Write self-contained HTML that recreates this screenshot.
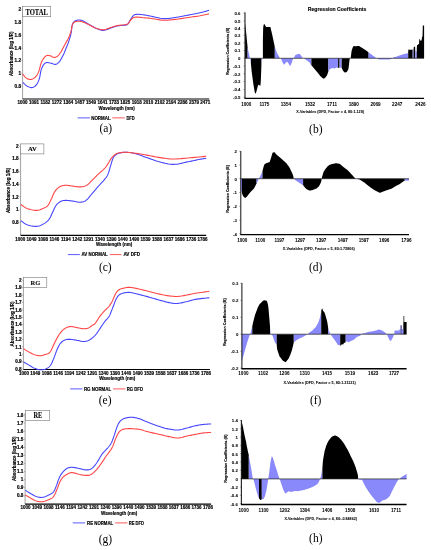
<!DOCTYPE html>
<html><head><meta charset="utf-8"><title>Figure</title>
<style>
html,body{margin:0;padding:0;background:#fff;}
body{width:431px;height:550px;overflow:hidden;}
svg{display:block;}

</style></head>
<body>
<svg width="431" height="550" viewBox="0 0 431 550">
<rect width="431" height="550" fill="#fff"/>
<line x1="22.6" y1="8.5" x2="22.6" y2="99.0" stroke="#8a8a8a" stroke-width="0.8"/>
<text x="21.00" y="11.30" font-size="4.6" text-anchor="end" font-weight="bold" font-family="'Liberation Sans', Arial, sans-serif" fill="#000" stroke="#000" stroke-width="0.2" >2</text>
<line x1="21.3" y1="9.7" x2="22.6" y2="9.7" stroke="#777" stroke-width="0.5"/>
<text x="21.00" y="24.00" font-size="4.6" text-anchor="end" font-weight="bold" font-family="'Liberation Sans', Arial, sans-serif" fill="#000" stroke="#000" stroke-width="0.2" >1.8</text>
<line x1="21.3" y1="22.4" x2="22.6" y2="22.4" stroke="#777" stroke-width="0.5"/>
<text x="21.00" y="36.90" font-size="4.6" text-anchor="end" font-weight="bold" font-family="'Liberation Sans', Arial, sans-serif" fill="#000" stroke="#000" stroke-width="0.2" >1.6</text>
<line x1="21.3" y1="35.3" x2="22.6" y2="35.3" stroke="#777" stroke-width="0.5"/>
<text x="21.00" y="49.60" font-size="4.6" text-anchor="end" font-weight="bold" font-family="'Liberation Sans', Arial, sans-serif" fill="#000" stroke="#000" stroke-width="0.2" >1.4</text>
<line x1="21.3" y1="48.0" x2="22.6" y2="48.0" stroke="#777" stroke-width="0.5"/>
<text x="21.00" y="62.20" font-size="4.6" text-anchor="end" font-weight="bold" font-family="'Liberation Sans', Arial, sans-serif" fill="#000" stroke="#000" stroke-width="0.2" >1.2</text>
<line x1="21.3" y1="60.6" x2="22.6" y2="60.6" stroke="#777" stroke-width="0.5"/>
<text x="21.00" y="74.80" font-size="4.6" text-anchor="end" font-weight="bold" font-family="'Liberation Sans', Arial, sans-serif" fill="#000" stroke="#000" stroke-width="0.2" >1</text>
<line x1="21.3" y1="73.2" x2="22.6" y2="73.2" stroke="#777" stroke-width="0.5"/>
<text x="21.00" y="87.60" font-size="4.6" text-anchor="end" font-weight="bold" font-family="'Liberation Sans', Arial, sans-serif" fill="#000" stroke="#000" stroke-width="0.2" >0.8</text>
<line x1="21.3" y1="86.0" x2="22.6" y2="86.0" stroke="#777" stroke-width="0.5"/>
<line x1="22.6" y1="99.0" x2="209.3" y2="99.0" stroke="#000" stroke-width="1.2"/>
<text x="22.50" y="104.10" font-size="4.5" text-anchor="middle" font-weight="bold" font-family="'Liberation Sans', Arial, sans-serif" fill="#000" stroke="#000" stroke-width="0.16" >1000</text>
<text x="33.93" y="104.10" font-size="4.5" text-anchor="middle" font-weight="bold" font-family="'Liberation Sans', Arial, sans-serif" fill="#000" stroke="#000" stroke-width="0.16" >1091</text>
<text x="45.36" y="104.10" font-size="4.5" text-anchor="middle" font-weight="bold" font-family="'Liberation Sans', Arial, sans-serif" fill="#000" stroke="#000" stroke-width="0.16" >1182</text>
<text x="56.79" y="104.10" font-size="4.5" text-anchor="middle" font-weight="bold" font-family="'Liberation Sans', Arial, sans-serif" fill="#000" stroke="#000" stroke-width="0.16" >1272</text>
<text x="68.22" y="104.10" font-size="4.5" text-anchor="middle" font-weight="bold" font-family="'Liberation Sans', Arial, sans-serif" fill="#000" stroke="#000" stroke-width="0.16" >1364</text>
<text x="79.65" y="104.10" font-size="4.5" text-anchor="middle" font-weight="bold" font-family="'Liberation Sans', Arial, sans-serif" fill="#000" stroke="#000" stroke-width="0.16" >1457</text>
<text x="91.08" y="104.10" font-size="4.5" text-anchor="middle" font-weight="bold" font-family="'Liberation Sans', Arial, sans-serif" fill="#000" stroke="#000" stroke-width="0.16" >1549</text>
<text x="102.51" y="104.10" font-size="4.5" text-anchor="middle" font-weight="bold" font-family="'Liberation Sans', Arial, sans-serif" fill="#000" stroke="#000" stroke-width="0.16" >1641</text>
<text x="113.94" y="104.10" font-size="4.5" text-anchor="middle" font-weight="bold" font-family="'Liberation Sans', Arial, sans-serif" fill="#000" stroke="#000" stroke-width="0.16" >1733</text>
<text x="125.37" y="104.10" font-size="4.5" text-anchor="middle" font-weight="bold" font-family="'Liberation Sans', Arial, sans-serif" fill="#000" stroke="#000" stroke-width="0.16" >1825</text>
<text x="136.80" y="104.10" font-size="4.5" text-anchor="middle" font-weight="bold" font-family="'Liberation Sans', Arial, sans-serif" fill="#000" stroke="#000" stroke-width="0.16" >1918</text>
<text x="148.23" y="104.10" font-size="4.5" text-anchor="middle" font-weight="bold" font-family="'Liberation Sans', Arial, sans-serif" fill="#000" stroke="#000" stroke-width="0.16" >2010</text>
<text x="159.66" y="104.10" font-size="4.5" text-anchor="middle" font-weight="bold" font-family="'Liberation Sans', Arial, sans-serif" fill="#000" stroke="#000" stroke-width="0.16" >2102</text>
<text x="171.09" y="104.10" font-size="4.5" text-anchor="middle" font-weight="bold" font-family="'Liberation Sans', Arial, sans-serif" fill="#000" stroke="#000" stroke-width="0.16" >2194</text>
<text x="182.52" y="104.10" font-size="4.5" text-anchor="middle" font-weight="bold" font-family="'Liberation Sans', Arial, sans-serif" fill="#000" stroke="#000" stroke-width="0.16" >2286</text>
<text x="193.95" y="104.10" font-size="4.5" text-anchor="middle" font-weight="bold" font-family="'Liberation Sans', Arial, sans-serif" fill="#000" stroke="#000" stroke-width="0.16" >2379</text>
<text x="205.38" y="104.10" font-size="4.5" text-anchor="middle" font-weight="bold" font-family="'Liberation Sans', Arial, sans-serif" fill="#000" stroke="#000" stroke-width="0.16" >2471</text>
<text x="116.60" y="109.55" font-size="4.5" text-anchor="middle" font-weight="bold" font-family="'Liberation Sans', Arial, sans-serif" fill="#000" stroke="#000" stroke-width="0.15" >Wavelength (nm)</text>
<text x="0.00" y="0.00" font-size="4.7" text-anchor="middle" font-weight="bold" font-family="'Liberation Sans', Arial, sans-serif" fill="#000" stroke="#000" stroke-width="0.15" textLength="44.5" lengthAdjust="spacingAndGlyphs" transform="translate(12.8,53.75) rotate(-90)">Absorbance (log 1/R)</text>
<rect x="22.6" y="6.5" width="28.1" height="10.2" fill="#fff" stroke="#777" stroke-width="0.6"/>
<text x="36.70" y="14.50" font-size="7.4" text-anchor="middle" font-weight="bold" font-family="'Liberation Serif', 'Times New Roman', serif" fill="#000" stroke="#000" stroke-width="0.08" textLength="22.6" lengthAdjust="spacingAndGlyphs" >TOTAL</text>
<polyline points="22.80,82.30 23.08,82.58 23.45,82.97 23.88,83.43 24.37,83.94 24.90,84.46 25.46,84.96 26.03,85.42 26.60,85.80 27.20,86.14 27.84,86.48 28.51,86.81 29.20,87.10 29.90,87.34 30.59,87.52 31.26,87.61 31.90,87.60 32.52,87.49 33.14,87.29 33.75,87.01 34.35,86.66 34.93,86.25 35.49,85.78 36.01,85.26 36.50,84.70 36.95,84.08 37.37,83.39 37.76,82.63 38.13,81.82 38.48,80.98 38.80,80.10 39.11,79.21 39.40,78.30 39.67,77.35 39.89,76.33 40.09,75.26 40.28,74.18 40.46,73.11 40.65,72.07 40.86,71.09 41.10,70.20 41.36,69.38 41.64,68.61 41.93,67.88 42.22,67.19 42.53,66.54 42.85,65.95 43.17,65.40 43.50,64.90 43.83,64.45 44.15,64.05 44.48,63.69 44.81,63.38 45.17,63.12 45.54,62.90 45.95,62.73 46.40,62.60 46.89,62.53 47.43,62.53 48.00,62.59 48.59,62.68 49.20,62.80 49.81,62.94 50.41,63.08 51.00,63.20 51.58,63.35 52.18,63.54 52.77,63.76 53.37,63.99 53.96,64.19 54.53,64.34 55.08,64.42 55.60,64.40 56.10,64.27 56.60,64.04 57.09,63.75 57.55,63.40 57.99,63.03 58.40,62.66 58.77,62.31 59.10,62.00 59.37,61.74 59.58,61.51 59.75,61.30 59.89,61.09 60.02,60.86 60.15,60.62 60.31,60.33 60.50,60.00 60.73,59.61 60.98,59.18 61.24,58.72 61.51,58.23 61.79,57.73 62.07,57.21 62.34,56.70 62.60,56.20 62.86,55.70 63.12,55.19 63.38,54.68 63.64,54.16 63.89,53.64 64.14,53.13 64.37,52.61 64.60,52.10 64.80,51.61 64.98,51.15 65.15,50.70 65.31,50.25 65.48,49.78 65.66,49.27 65.86,48.72 66.10,48.10 66.37,47.42 66.68,46.69 67.01,45.92 67.35,45.11 67.70,44.26 68.05,43.40 68.38,42.51 68.70,41.60 69.01,40.66 69.32,39.69 69.63,38.68 69.94,37.65 70.23,36.61 70.51,35.56 70.77,34.52 71.00,33.50 71.20,32.46 71.37,31.37 71.51,30.26 71.64,29.16 71.76,28.10 71.89,27.10 72.03,26.19 72.20,25.40 72.38,24.73 72.55,24.16 72.72,23.67 72.91,23.25 73.11,22.88 73.34,22.54 73.60,22.22 73.90,21.90 74.24,21.59 74.62,21.30 75.03,21.04 75.47,20.81 75.93,20.61 76.41,20.44 76.90,20.30 77.40,20.20 77.91,20.12 78.44,20.07 78.99,20.04 79.56,20.04 80.14,20.09 80.74,20.17 81.36,20.31 82.00,20.50 82.66,20.76 83.34,21.08 84.03,21.45 84.75,21.87 85.48,22.31 86.24,22.78 87.01,23.24 87.80,23.70 88.63,24.17 89.49,24.68 90.39,25.22 91.30,25.76 92.21,26.29 93.11,26.80 93.97,27.28 94.80,27.70 95.59,28.08 96.38,28.44 97.14,28.78 97.89,29.09 98.61,29.37 99.30,29.61 99.97,29.82 100.60,30.00 101.17,30.14 101.66,30.26 102.10,30.34 102.52,30.39 102.96,30.41 103.43,30.38 103.97,30.31 104.60,30.20 105.34,30.02 106.17,29.77 107.06,29.47 107.99,29.13 108.93,28.78 109.86,28.43 110.76,28.09 111.60,27.80 112.38,27.53 113.13,27.26 113.86,26.99 114.57,26.74 115.28,26.50 115.98,26.27 116.68,26.07 117.40,25.90 118.14,25.76 118.89,25.66 119.65,25.59 120.41,25.53 121.15,25.48 121.87,25.43 122.56,25.38 123.20,25.30 123.80,25.23 124.37,25.20 124.91,25.17 125.43,25.14 125.93,25.07 126.40,24.96 126.86,24.77 127.30,24.50 127.72,24.12 128.10,23.66 128.45,23.13 128.79,22.54 129.13,21.93 129.47,21.31 129.82,20.69 130.20,20.10 130.60,19.50 131.01,18.86 131.43,18.20 131.86,17.54 132.30,16.91 132.73,16.33 133.17,15.82 133.60,15.40 134.01,15.08 134.39,14.83 134.75,14.65 135.12,14.52 135.53,14.43 135.98,14.37 136.49,14.33 137.10,14.30 137.82,14.29 138.63,14.32 139.52,14.38 140.45,14.46 141.40,14.56 142.35,14.68 143.25,14.79 144.10,14.90 144.84,15.00 145.47,15.10 146.05,15.21 146.63,15.32 147.26,15.46 148.00,15.61 148.90,15.79 150.00,16.00 151.36,16.28 152.93,16.63 154.67,17.03 156.51,17.44 158.40,17.83 160.26,18.18 162.05,18.44 163.70,18.60 165.20,18.65 166.61,18.62 167.95,18.53 169.27,18.38 170.60,18.19 171.97,17.97 173.43,17.74 175.00,17.50 176.73,17.23 178.61,16.92 180.57,16.57 182.58,16.21 184.58,15.83 186.51,15.46 188.34,15.11 190.00,14.80 191.50,14.52 192.88,14.26 194.16,14.02 195.38,13.78 196.54,13.55 197.69,13.31 198.83,13.06 200.00,12.80 201.23,12.50 202.53,12.17 203.84,11.82 205.12,11.48 206.33,11.14 207.41,10.84 208.31,10.59 209.00,10.40" fill="none" stroke="#4646ff" stroke-width="1.1" stroke-linejoin="round"/>
<polyline points="22.80,74.20 23.09,74.54 23.46,75.01 23.91,75.57 24.41,76.18 24.94,76.80 25.50,77.39 26.06,77.90 26.60,78.30 27.15,78.61 27.71,78.88 28.30,79.11 28.90,79.29 29.51,79.41 30.11,79.48 30.71,79.47 31.30,79.40 31.89,79.24 32.50,79.01 33.11,78.71 33.71,78.34 34.30,77.93 34.87,77.48 35.41,77.00 35.90,76.50 36.35,75.98 36.76,75.43 37.14,74.85 37.49,74.22 37.83,73.56 38.16,72.86 38.48,72.10 38.80,71.30 39.12,70.40 39.41,69.40 39.70,68.32 39.98,67.21 40.26,66.11 40.53,65.05 40.81,64.06 41.10,63.20 41.39,62.45 41.68,61.76 41.97,61.14 42.26,60.58 42.56,60.05 42.86,59.55 43.18,59.07 43.50,58.60 43.84,58.14 44.18,57.69 44.53,57.26 44.89,56.86 45.25,56.50 45.63,56.18 46.01,55.91 46.40,55.70 46.79,55.55 47.18,55.46 47.58,55.41 47.99,55.41 48.41,55.45 48.85,55.51 49.31,55.60 49.80,55.70 50.33,55.85 50.91,56.09 51.52,56.36 52.14,56.66 52.77,56.94 53.38,57.17 53.96,57.34 54.50,57.40 55.01,57.36 55.49,57.23 55.97,57.05 56.42,56.81 56.85,56.55 57.26,56.26 57.64,55.97 58.00,55.70 58.33,55.42 58.62,55.12 58.89,54.80 59.13,54.47 59.36,54.14 59.58,53.81 59.79,53.49 60.00,53.20 60.19,52.95 60.35,52.76 60.49,52.59 60.62,52.43 60.77,52.23 60.94,51.98 61.14,51.64 61.40,51.20 61.71,50.64 62.05,50.00 62.43,49.27 62.83,48.49 63.25,47.67 63.69,46.82 64.14,45.96 64.60,45.10 65.08,44.22 65.60,43.30 66.15,42.34 66.71,41.37 67.25,40.39 67.78,39.43 68.27,38.49 68.70,37.60 69.08,36.74 69.43,35.91 69.74,35.09 70.03,34.29 70.30,33.51 70.54,32.73 70.78,31.96 71.00,31.20 71.20,30.43 71.37,29.64 71.51,28.85 71.64,28.08 71.76,27.34 71.89,26.63 72.03,25.98 72.20,25.40 72.38,24.89 72.55,24.43 72.72,24.03 72.91,23.66 73.11,23.34 73.34,23.04 73.60,22.76 73.90,22.50 74.24,22.26 74.62,22.04 75.03,21.86 75.47,21.69 75.93,21.56 76.41,21.45 76.90,21.36 77.40,21.30 77.91,21.26 78.44,21.24 78.99,21.24 79.56,21.27 80.14,21.33 80.74,21.41 81.36,21.54 82.00,21.70 82.66,21.91 83.34,22.15 84.03,22.44 84.75,22.76 85.48,23.10 86.24,23.46 87.01,23.83 87.80,24.20 88.63,24.60 89.49,25.04 90.39,25.51 91.30,25.99 92.21,26.47 93.11,26.92 93.97,27.34 94.80,27.70 95.59,28.02 96.38,28.31 97.14,28.57 97.89,28.81 98.61,29.02 99.30,29.21 99.97,29.37 100.60,29.50 101.17,29.61 101.66,29.70 102.10,29.77 102.52,29.81 102.96,29.82 103.43,29.79 103.97,29.72 104.60,29.60 105.34,29.41 106.17,29.16 107.06,28.85 107.99,28.51 108.93,28.15 109.86,27.80 110.76,27.48 111.60,27.20 112.35,26.96 113.04,26.74 113.68,26.54 114.32,26.34 114.98,26.16 115.69,25.97 116.49,25.79 117.40,25.60 118.49,25.42 119.75,25.26 121.12,25.11 122.53,24.96 123.92,24.80 125.22,24.61 126.37,24.38 127.30,24.10 127.99,23.77 128.48,23.39 128.83,22.97 129.08,22.53 129.30,22.07 129.52,21.60 129.80,21.14 130.20,20.70 130.66,20.24 131.12,19.74 131.59,19.21 132.10,18.70 132.66,18.22 133.28,17.79 133.99,17.44 134.80,17.20 135.76,17.08 136.87,17.06 138.09,17.13 139.37,17.25 140.65,17.40 141.90,17.56 143.07,17.70 144.10,17.80 144.95,17.86 145.63,17.90 146.22,17.93 146.77,17.97 147.37,18.01 148.06,18.08 148.91,18.17 150.00,18.30 151.36,18.49 152.93,18.74 154.67,19.03 156.51,19.33 158.40,19.62 160.26,19.88 162.05,20.08 163.70,20.20 165.20,20.24 166.61,20.22 167.95,20.16 169.27,20.06 170.60,19.92 171.97,19.76 173.43,19.59 175.00,19.40 176.73,19.19 178.61,18.93 180.57,18.64 182.58,18.34 184.58,18.03 186.51,17.73 188.34,17.45 190.00,17.20 191.50,16.99 192.88,16.81 194.16,16.64 195.38,16.48 196.54,16.33 197.69,16.17 198.83,15.99 200.00,15.80 201.23,15.57 202.53,15.32 203.84,15.04 205.12,14.76 206.33,14.50 207.41,14.25 208.31,14.05 209.00,13.90" fill="none" stroke="#ff4646" stroke-width="1.1" stroke-linejoin="round"/>
<line x1="77.7" y1="117.9" x2="89.9" y2="117.9" stroke="#4646ff" stroke-width="0.9"/>
<text x="91.20" y="119.50" font-size="4.55" text-anchor="start" font-weight="bold" font-family="'Liberation Sans', Arial, sans-serif" fill="#000" stroke="#000" stroke-width="0.15" textLength="19.5" lengthAdjust="spacingAndGlyphs" >NORMAL</text>
<line x1="112.3" y1="117.9" x2="124.8" y2="117.9" stroke="#ff4646" stroke-width="0.9"/>
<text x="126.40" y="119.50" font-size="4.55" text-anchor="start" font-weight="bold" font-family="'Liberation Sans', Arial, sans-serif" fill="#000" stroke="#000" stroke-width="0.15" textLength="8.3" lengthAdjust="spacingAndGlyphs" >DFD</text>
<text x="105.80" y="132.30" font-size="11.5" text-anchor="middle" font-weight="normal" font-family="'Liberation Serif', 'Times New Roman', serif" fill="#000" >(a)</text>
<line x1="20.6" y1="146.0" x2="20.6" y2="235.4" stroke="#8a8a8a" stroke-width="0.8"/>
<text x="18.60" y="147.90" font-size="4.6" text-anchor="end" font-weight="bold" font-family="'Liberation Sans', Arial, sans-serif" fill="#000" stroke="#000" stroke-width="0.2" >2</text>
<line x1="19.3" y1="146.3" x2="20.6" y2="146.3" stroke="#777" stroke-width="0.5"/>
<text x="18.60" y="160.40" font-size="4.6" text-anchor="end" font-weight="bold" font-family="'Liberation Sans', Arial, sans-serif" fill="#000" stroke="#000" stroke-width="0.2" >1.8</text>
<line x1="19.3" y1="158.8" x2="20.6" y2="158.8" stroke="#777" stroke-width="0.5"/>
<text x="18.60" y="173.20" font-size="4.6" text-anchor="end" font-weight="bold" font-family="'Liberation Sans', Arial, sans-serif" fill="#000" stroke="#000" stroke-width="0.2" >1.6</text>
<line x1="19.3" y1="171.6" x2="20.6" y2="171.6" stroke="#777" stroke-width="0.5"/>
<text x="18.60" y="185.90" font-size="4.6" text-anchor="end" font-weight="bold" font-family="'Liberation Sans', Arial, sans-serif" fill="#000" stroke="#000" stroke-width="0.2" >1.4</text>
<line x1="19.3" y1="184.3" x2="20.6" y2="184.3" stroke="#777" stroke-width="0.5"/>
<text x="18.60" y="198.60" font-size="4.6" text-anchor="end" font-weight="bold" font-family="'Liberation Sans', Arial, sans-serif" fill="#000" stroke="#000" stroke-width="0.2" >1.2</text>
<line x1="19.3" y1="197.0" x2="20.6" y2="197.0" stroke="#777" stroke-width="0.5"/>
<text x="18.60" y="211.30" font-size="4.6" text-anchor="end" font-weight="bold" font-family="'Liberation Sans', Arial, sans-serif" fill="#000" stroke="#000" stroke-width="0.2" >1</text>
<line x1="19.3" y1="209.7" x2="20.6" y2="209.7" stroke="#777" stroke-width="0.5"/>
<text x="18.60" y="224.10" font-size="4.6" text-anchor="end" font-weight="bold" font-family="'Liberation Sans', Arial, sans-serif" fill="#000" stroke="#000" stroke-width="0.2" >0.8</text>
<line x1="19.3" y1="222.5" x2="20.6" y2="222.5" stroke="#777" stroke-width="0.5"/>
<line x1="20.6" y1="235.4" x2="206.2" y2="235.4" stroke="#000" stroke-width="1.2"/>
<text x="20.20" y="240.60" font-size="4.5" text-anchor="middle" font-weight="bold" font-family="'Liberation Sans', Arial, sans-serif" fill="#000" stroke="#000" stroke-width="0.16" >1000</text>
<text x="31.60" y="240.60" font-size="4.5" text-anchor="middle" font-weight="bold" font-family="'Liberation Sans', Arial, sans-serif" fill="#000" stroke="#000" stroke-width="0.16" >1049</text>
<text x="43.00" y="240.60" font-size="4.5" text-anchor="middle" font-weight="bold" font-family="'Liberation Sans', Arial, sans-serif" fill="#000" stroke="#000" stroke-width="0.16" >1098</text>
<text x="54.40" y="240.60" font-size="4.5" text-anchor="middle" font-weight="bold" font-family="'Liberation Sans', Arial, sans-serif" fill="#000" stroke="#000" stroke-width="0.16" >1146</text>
<text x="65.80" y="240.60" font-size="4.5" text-anchor="middle" font-weight="bold" font-family="'Liberation Sans', Arial, sans-serif" fill="#000" stroke="#000" stroke-width="0.16" >1194</text>
<text x="77.20" y="240.60" font-size="4.5" text-anchor="middle" font-weight="bold" font-family="'Liberation Sans', Arial, sans-serif" fill="#000" stroke="#000" stroke-width="0.16" >1242</text>
<text x="88.60" y="240.60" font-size="4.5" text-anchor="middle" font-weight="bold" font-family="'Liberation Sans', Arial, sans-serif" fill="#000" stroke="#000" stroke-width="0.16" >1291</text>
<text x="100.00" y="240.60" font-size="4.5" text-anchor="middle" font-weight="bold" font-family="'Liberation Sans', Arial, sans-serif" fill="#000" stroke="#000" stroke-width="0.16" >1340</text>
<text x="111.40" y="240.60" font-size="4.5" text-anchor="middle" font-weight="bold" font-family="'Liberation Sans', Arial, sans-serif" fill="#000" stroke="#000" stroke-width="0.16" >1390</text>
<text x="122.80" y="240.60" font-size="4.5" text-anchor="middle" font-weight="bold" font-family="'Liberation Sans', Arial, sans-serif" fill="#000" stroke="#000" stroke-width="0.16" >1440</text>
<text x="134.20" y="240.60" font-size="4.5" text-anchor="middle" font-weight="bold" font-family="'Liberation Sans', Arial, sans-serif" fill="#000" stroke="#000" stroke-width="0.16" >1490</text>
<text x="145.60" y="240.60" font-size="4.5" text-anchor="middle" font-weight="bold" font-family="'Liberation Sans', Arial, sans-serif" fill="#000" stroke="#000" stroke-width="0.16" >1539</text>
<text x="157.00" y="240.60" font-size="4.5" text-anchor="middle" font-weight="bold" font-family="'Liberation Sans', Arial, sans-serif" fill="#000" stroke="#000" stroke-width="0.16" >1588</text>
<text x="168.40" y="240.60" font-size="4.5" text-anchor="middle" font-weight="bold" font-family="'Liberation Sans', Arial, sans-serif" fill="#000" stroke="#000" stroke-width="0.16" >1637</text>
<text x="179.80" y="240.60" font-size="4.5" text-anchor="middle" font-weight="bold" font-family="'Liberation Sans', Arial, sans-serif" fill="#000" stroke="#000" stroke-width="0.16" >1686</text>
<text x="191.20" y="240.60" font-size="4.5" text-anchor="middle" font-weight="bold" font-family="'Liberation Sans', Arial, sans-serif" fill="#000" stroke="#000" stroke-width="0.16" >1736</text>
<text x="202.60" y="240.60" font-size="4.5" text-anchor="middle" font-weight="bold" font-family="'Liberation Sans', Arial, sans-serif" fill="#000" stroke="#000" stroke-width="0.16" >1786</text>
<text x="114.10" y="246.45" font-size="4.5" text-anchor="middle" font-weight="bold" font-family="'Liberation Sans', Arial, sans-serif" fill="#000" stroke="#000" stroke-width="0.15" >Wavelength (nm)</text>
<text x="0.00" y="0.00" font-size="4.7" text-anchor="middle" font-weight="bold" font-family="'Liberation Sans', Arial, sans-serif" fill="#000" stroke="#000" stroke-width="0.15" textLength="45.2" lengthAdjust="spacingAndGlyphs" transform="translate(10.3,190.3) rotate(-90)">Absorbance (log 1/R)</text>
<rect x="20.4" y="143.9" width="23.5" height="10.0" fill="#fff" stroke="#777" stroke-width="0.6"/>
<text x="32.40" y="151.30" font-size="7.1" text-anchor="middle" font-weight="bold" font-family="'Liberation Serif', 'Times New Roman', serif" fill="#000" stroke="#000" stroke-width="0.08" textLength="8.8" lengthAdjust="spacingAndGlyphs" >AV</text>
<polyline points="20.80,220.60 21.26,220.93 21.84,221.39 22.54,221.94 23.33,222.54 24.18,223.16 25.09,223.75 26.04,224.27 27.00,224.70 28.02,225.05 29.14,225.39 30.33,225.69 31.55,225.95 32.78,226.16 33.98,226.31 35.13,226.40 36.20,226.40 37.19,226.32 38.13,226.16 39.04,225.94 39.91,225.65 40.76,225.31 41.59,224.94 42.40,224.53 43.20,224.10 44.00,223.64 44.79,223.15 45.56,222.61 46.32,222.04 47.05,221.43 47.74,220.79 48.39,220.11 49.00,219.40 49.55,218.64 50.04,217.83 50.48,216.98 50.89,216.09 51.29,215.19 51.68,214.28 52.08,213.38 52.50,212.50 52.93,211.61 53.35,210.69 53.76,209.75 54.18,208.82 54.61,207.91 55.05,207.04 55.51,206.23 56.00,205.50 56.52,204.84 57.07,204.22 57.64,203.65 58.23,203.13 58.83,202.66 59.42,202.23 60.02,201.84 60.60,201.50 61.16,201.21 61.70,200.98 62.23,200.80 62.76,200.66 63.31,200.56 63.90,200.49 64.52,200.44 65.20,200.40 65.94,200.39 66.71,200.42 67.53,200.47 68.38,200.56 69.26,200.66 70.16,200.77 71.07,200.88 72.00,201.00 72.97,201.14 73.99,201.33 75.04,201.53 76.11,201.74 77.17,201.94 78.21,202.09 79.19,202.18 80.10,202.20 80.94,202.16 81.71,202.09 82.44,201.98 83.14,201.82 83.83,201.61 84.50,201.32 85.19,200.96 85.90,200.50 86.62,199.94 87.32,199.27 88.03,198.52 88.73,197.70 89.44,196.83 90.17,195.93 90.92,195.01 91.70,194.10 92.52,193.16 93.37,192.15 94.26,191.11 95.15,190.05 96.04,188.99 96.93,187.95 97.78,186.94 98.60,186.00 99.39,185.11 100.18,184.25 100.96,183.42 101.71,182.62 102.44,181.84 103.14,181.08 103.79,180.33 104.40,179.60 104.95,178.92 105.45,178.31 105.91,177.74 106.33,177.18 106.73,176.60 107.12,175.96 107.51,175.24 107.90,174.40 108.30,173.42 108.68,172.31 109.06,171.11 109.42,169.86 109.78,168.60 110.13,167.36 110.47,166.18 110.80,165.10 111.12,164.09 111.41,163.10 111.70,162.14 111.98,161.21 112.26,160.34 112.53,159.52 112.81,158.77 113.10,158.10 113.39,157.52 113.68,157.02 113.96,156.59 114.25,156.22 114.54,155.89 114.85,155.59 115.17,155.29 115.50,155.00 115.86,154.71 116.24,154.45 116.64,154.21 117.05,153.99 117.46,153.79 117.86,153.61 118.24,153.45 118.60,153.30 118.92,153.18 119.19,153.09 119.45,153.03 119.69,152.98 119.95,152.94 120.25,152.90 120.59,152.86 121.00,152.80 121.46,152.72 121.93,152.61 122.43,152.50 122.97,152.39 123.57,152.29 124.23,152.22 124.97,152.18 125.80,152.20 126.72,152.25 127.74,152.33 128.83,152.43 129.98,152.56 131.19,152.73 132.44,152.94 133.71,153.20 135.00,153.50 136.31,153.87 137.67,154.30 139.06,154.78 140.48,155.30 141.94,155.84 143.43,156.40 144.95,156.96 146.50,157.50 148.09,158.05 149.73,158.64 151.40,159.24 153.11,159.85 154.83,160.44 156.56,161.01 158.28,161.53 160.00,162.00 161.71,162.43 163.42,162.86 165.14,163.27 166.86,163.64 168.58,163.96 170.31,164.20 172.05,164.35 173.80,164.40 175.57,164.31 177.37,164.10 179.19,163.79 181.01,163.41 182.82,162.99 184.60,162.56 186.33,162.15 188.00,161.80 189.64,161.47 191.29,161.13 192.92,160.79 194.50,160.45 196.02,160.12 197.46,159.82 198.79,159.54 200.00,159.30 201.09,159.10 202.10,158.92 203.02,158.77 203.85,158.64 204.58,158.54 205.22,158.44 205.76,158.37 206.20,158.30" fill="none" stroke="#4646ff" stroke-width="1.1" stroke-linejoin="round"/>
<polyline points="20.80,204.40 21.26,204.72 21.84,205.17 22.54,205.69 23.33,206.28 24.18,206.87 25.09,207.45 26.04,207.97 27.00,208.40 28.02,208.77 29.14,209.13 30.33,209.47 31.55,209.78 32.78,210.03 33.98,210.23 35.13,210.36 36.20,210.40 37.20,210.35 38.16,210.20 39.09,209.98 39.99,209.71 40.85,209.39 41.67,209.06 42.45,208.72 43.20,208.40 43.90,208.10 44.54,207.82 45.15,207.53 45.72,207.23 46.26,206.88 46.78,206.49 47.29,206.04 47.80,205.50 48.29,204.87 48.75,204.17 49.19,203.40 49.62,202.59 50.04,201.73 50.45,200.86 50.87,199.98 51.30,199.10 51.73,198.20 52.15,197.23 52.56,196.24 52.98,195.24 53.41,194.25 53.85,193.30 54.31,192.41 54.80,191.60 55.31,190.87 55.84,190.18 56.39,189.54 56.96,188.94 57.54,188.39 58.14,187.88 58.76,187.42 59.40,187.00 60.06,186.63 60.74,186.31 61.44,186.04 62.16,185.82 62.90,185.63 63.65,185.49 64.42,185.38 65.20,185.30 65.99,185.27 66.80,185.30 67.62,185.38 68.46,185.49 69.31,185.62 70.19,185.75 71.08,185.89 72.00,186.00 72.96,186.12 73.97,186.27 75.02,186.43 76.07,186.59 77.13,186.73 78.16,186.84 79.16,186.90 80.10,186.90 80.99,186.85 81.85,186.77 82.68,186.65 83.48,186.50 84.26,186.30 85.02,186.06 85.77,185.76 86.50,185.40 87.20,184.98 87.84,184.50 88.46,183.97 89.07,183.39 89.68,182.76 90.31,182.10 90.98,181.41 91.70,180.70 92.49,179.93 93.33,179.09 94.21,178.20 95.11,177.28 96.02,176.36 96.91,175.46 97.78,174.60 98.60,173.80 99.39,173.07 100.18,172.37 100.96,171.70 101.71,171.06 102.44,170.44 103.14,169.83 103.79,169.21 104.40,168.60 104.95,168.00 105.44,167.42 105.88,166.85 106.29,166.29 106.69,165.72 107.08,165.14 107.48,164.54 107.90,163.90 108.34,163.21 108.77,162.47 109.21,161.70 109.64,160.93 110.08,160.15 110.52,159.41 110.96,158.72 111.40,158.10 111.85,157.54 112.32,157.01 112.80,156.52 113.27,156.07 113.73,155.65 114.18,155.27 114.61,154.92 115.00,154.60 115.35,154.33 115.66,154.11 115.94,153.92 116.20,153.78 116.46,153.65 116.74,153.53 117.05,153.42 117.40,153.30 117.78,153.18 118.19,153.08 118.61,152.98 119.05,152.89 119.51,152.81 119.99,152.74 120.48,152.67 121.00,152.60 121.51,152.53 122.01,152.45 122.52,152.37 123.05,152.29 123.62,152.23 124.26,152.19 124.98,152.18 125.80,152.20 126.72,152.25 127.74,152.33 128.83,152.43 129.98,152.56 131.19,152.70 132.44,152.85 133.71,153.02 135.00,153.20 136.31,153.39 137.67,153.60 139.06,153.82 140.48,154.06 141.94,154.30 143.43,154.56 144.95,154.83 146.50,155.10 148.09,155.39 149.74,155.71 151.42,156.04 153.14,156.38 154.86,156.72 156.59,157.04 158.31,157.34 160.00,157.60 161.65,157.85 163.26,158.09 164.85,158.32 166.45,158.53 168.07,158.71 169.74,158.86 171.48,158.96 173.30,159.00 175.23,158.98 177.25,158.89 179.34,158.75 181.47,158.58 183.62,158.39 185.78,158.18 187.91,157.98 190.00,157.80 192.16,157.62 194.46,157.41 196.82,157.19 199.14,156.98 201.33,156.77 203.30,156.58 204.95,156.42 206.20,156.30" fill="none" stroke="#ff4646" stroke-width="1.1" stroke-linejoin="round"/>
<line x1="67.8" y1="254.6" x2="79.9" y2="254.6" stroke="#4646ff" stroke-width="0.9"/>
<text x="81.50" y="256.20" font-size="4.55" text-anchor="start" font-weight="bold" font-family="'Liberation Sans', Arial, sans-serif" fill="#000" stroke="#000" stroke-width="0.15" textLength="26.3" lengthAdjust="spacingAndGlyphs" >AV NORMAL</text>
<line x1="109.8" y1="254.6" x2="121.5" y2="254.6" stroke="#ff4646" stroke-width="0.9"/>
<text x="123.40" y="256.20" font-size="4.55" text-anchor="start" font-weight="bold" font-family="'Liberation Sans', Arial, sans-serif" fill="#000" stroke="#000" stroke-width="0.15" textLength="16.6" lengthAdjust="spacingAndGlyphs" >AV DFD</text>
<text x="105.30" y="271.40" font-size="11.5" text-anchor="middle" font-weight="normal" font-family="'Liberation Serif', 'Times New Roman', serif" fill="#000" >(c)</text>
<line x1="23.4" y1="280.0" x2="23.4" y2="369.5" stroke="#8a8a8a" stroke-width="0.8"/>
<text x="21.60" y="281.90" font-size="4.6" text-anchor="end" font-weight="bold" font-family="'Liberation Sans', Arial, sans-serif" fill="#000" stroke="#000" stroke-width="0.2" >2</text>
<line x1="22.099999999999998" y1="280.3" x2="23.4" y2="280.3" stroke="#777" stroke-width="0.5"/>
<text x="21.60" y="289.30" font-size="4.6" text-anchor="end" font-weight="bold" font-family="'Liberation Sans', Arial, sans-serif" fill="#000" stroke="#000" stroke-width="0.2" >1.9</text>
<line x1="22.099999999999998" y1="287.7" x2="23.4" y2="287.7" stroke="#777" stroke-width="0.5"/>
<text x="21.60" y="296.70" font-size="4.6" text-anchor="end" font-weight="bold" font-family="'Liberation Sans', Arial, sans-serif" fill="#000" stroke="#000" stroke-width="0.2" >1.8</text>
<line x1="22.099999999999998" y1="295.1" x2="23.4" y2="295.1" stroke="#777" stroke-width="0.5"/>
<text x="21.60" y="304.10" font-size="4.6" text-anchor="end" font-weight="bold" font-family="'Liberation Sans', Arial, sans-serif" fill="#000" stroke="#000" stroke-width="0.2" >1.7</text>
<line x1="22.099999999999998" y1="302.5" x2="23.4" y2="302.5" stroke="#777" stroke-width="0.5"/>
<text x="21.60" y="311.50" font-size="4.6" text-anchor="end" font-weight="bold" font-family="'Liberation Sans', Arial, sans-serif" fill="#000" stroke="#000" stroke-width="0.2" >1.6</text>
<line x1="22.099999999999998" y1="309.9" x2="23.4" y2="309.9" stroke="#777" stroke-width="0.5"/>
<text x="21.60" y="318.90" font-size="4.6" text-anchor="end" font-weight="bold" font-family="'Liberation Sans', Arial, sans-serif" fill="#000" stroke="#000" stroke-width="0.2" >1.5</text>
<line x1="22.099999999999998" y1="317.3" x2="23.4" y2="317.3" stroke="#777" stroke-width="0.5"/>
<text x="21.60" y="326.30" font-size="4.6" text-anchor="end" font-weight="bold" font-family="'Liberation Sans', Arial, sans-serif" fill="#000" stroke="#000" stroke-width="0.2" >1.4</text>
<line x1="22.099999999999998" y1="324.7" x2="23.4" y2="324.7" stroke="#777" stroke-width="0.5"/>
<text x="21.60" y="333.70" font-size="4.6" text-anchor="end" font-weight="bold" font-family="'Liberation Sans', Arial, sans-serif" fill="#000" stroke="#000" stroke-width="0.2" >1.3</text>
<line x1="22.099999999999998" y1="332.1" x2="23.4" y2="332.1" stroke="#777" stroke-width="0.5"/>
<text x="21.60" y="341.10" font-size="4.6" text-anchor="end" font-weight="bold" font-family="'Liberation Sans', Arial, sans-serif" fill="#000" stroke="#000" stroke-width="0.2" >1.2</text>
<line x1="22.099999999999998" y1="339.5" x2="23.4" y2="339.5" stroke="#777" stroke-width="0.5"/>
<text x="21.60" y="348.50" font-size="4.6" text-anchor="end" font-weight="bold" font-family="'Liberation Sans', Arial, sans-serif" fill="#000" stroke="#000" stroke-width="0.2" >1.1</text>
<line x1="22.099999999999998" y1="346.9" x2="23.4" y2="346.9" stroke="#777" stroke-width="0.5"/>
<text x="21.60" y="355.90" font-size="4.6" text-anchor="end" font-weight="bold" font-family="'Liberation Sans', Arial, sans-serif" fill="#000" stroke="#000" stroke-width="0.2" >1</text>
<line x1="22.099999999999998" y1="354.3" x2="23.4" y2="354.3" stroke="#777" stroke-width="0.5"/>
<text x="21.60" y="363.30" font-size="4.6" text-anchor="end" font-weight="bold" font-family="'Liberation Sans', Arial, sans-serif" fill="#000" stroke="#000" stroke-width="0.2" >0.9</text>
<line x1="22.099999999999998" y1="361.7" x2="23.4" y2="361.7" stroke="#777" stroke-width="0.5"/>
<text x="21.60" y="370.70" font-size="4.6" text-anchor="end" font-weight="bold" font-family="'Liberation Sans', Arial, sans-serif" fill="#000" stroke="#000" stroke-width="0.2" >0.8</text>
<line x1="22.099999999999998" y1="369.1" x2="23.4" y2="369.1" stroke="#777" stroke-width="0.5"/>
<line x1="23.4" y1="369.5" x2="209.9" y2="369.5" stroke="#000" stroke-width="1.2"/>
<text x="24.00" y="374.80" font-size="4.5" text-anchor="middle" font-weight="bold" font-family="'Liberation Sans', Arial, sans-serif" fill="#000" stroke="#000" stroke-width="0.16" >1000</text>
<text x="35.37" y="374.80" font-size="4.5" text-anchor="middle" font-weight="bold" font-family="'Liberation Sans', Arial, sans-serif" fill="#000" stroke="#000" stroke-width="0.16" >1049</text>
<text x="46.74" y="374.80" font-size="4.5" text-anchor="middle" font-weight="bold" font-family="'Liberation Sans', Arial, sans-serif" fill="#000" stroke="#000" stroke-width="0.16" >1098</text>
<text x="58.11" y="374.80" font-size="4.5" text-anchor="middle" font-weight="bold" font-family="'Liberation Sans', Arial, sans-serif" fill="#000" stroke="#000" stroke-width="0.16" >1146</text>
<text x="69.48" y="374.80" font-size="4.5" text-anchor="middle" font-weight="bold" font-family="'Liberation Sans', Arial, sans-serif" fill="#000" stroke="#000" stroke-width="0.16" >1194</text>
<text x="80.85" y="374.80" font-size="4.5" text-anchor="middle" font-weight="bold" font-family="'Liberation Sans', Arial, sans-serif" fill="#000" stroke="#000" stroke-width="0.16" >1242</text>
<text x="92.22" y="374.80" font-size="4.5" text-anchor="middle" font-weight="bold" font-family="'Liberation Sans', Arial, sans-serif" fill="#000" stroke="#000" stroke-width="0.16" >1291</text>
<text x="103.59" y="374.80" font-size="4.5" text-anchor="middle" font-weight="bold" font-family="'Liberation Sans', Arial, sans-serif" fill="#000" stroke="#000" stroke-width="0.16" >1340</text>
<text x="114.96" y="374.80" font-size="4.5" text-anchor="middle" font-weight="bold" font-family="'Liberation Sans', Arial, sans-serif" fill="#000" stroke="#000" stroke-width="0.16" >1390</text>
<text x="126.33" y="374.80" font-size="4.5" text-anchor="middle" font-weight="bold" font-family="'Liberation Sans', Arial, sans-serif" fill="#000" stroke="#000" stroke-width="0.16" >1440</text>
<text x="137.70" y="374.80" font-size="4.5" text-anchor="middle" font-weight="bold" font-family="'Liberation Sans', Arial, sans-serif" fill="#000" stroke="#000" stroke-width="0.16" >1490</text>
<text x="149.07" y="374.80" font-size="4.5" text-anchor="middle" font-weight="bold" font-family="'Liberation Sans', Arial, sans-serif" fill="#000" stroke="#000" stroke-width="0.16" >1539</text>
<text x="160.44" y="374.80" font-size="4.5" text-anchor="middle" font-weight="bold" font-family="'Liberation Sans', Arial, sans-serif" fill="#000" stroke="#000" stroke-width="0.16" >1588</text>
<text x="171.81" y="374.80" font-size="4.5" text-anchor="middle" font-weight="bold" font-family="'Liberation Sans', Arial, sans-serif" fill="#000" stroke="#000" stroke-width="0.16" >1637</text>
<text x="183.18" y="374.80" font-size="4.5" text-anchor="middle" font-weight="bold" font-family="'Liberation Sans', Arial, sans-serif" fill="#000" stroke="#000" stroke-width="0.16" >1686</text>
<text x="194.55" y="374.80" font-size="4.5" text-anchor="middle" font-weight="bold" font-family="'Liberation Sans', Arial, sans-serif" fill="#000" stroke="#000" stroke-width="0.16" >1736</text>
<text x="205.92" y="374.80" font-size="4.5" text-anchor="middle" font-weight="bold" font-family="'Liberation Sans', Arial, sans-serif" fill="#000" stroke="#000" stroke-width="0.16" >1786</text>
<text x="117.30" y="380.45" font-size="4.5" text-anchor="middle" font-weight="bold" font-family="'Liberation Sans', Arial, sans-serif" fill="#000" stroke="#000" stroke-width="0.15" >Wavelength (nm)</text>
<text x="0.00" y="0.00" font-size="4.7" text-anchor="middle" font-weight="bold" font-family="'Liberation Sans', Arial, sans-serif" fill="#000" stroke="#000" stroke-width="0.15" textLength="45.0" lengthAdjust="spacingAndGlyphs" transform="translate(13.7,324.0) rotate(-90)">Absorbance (log 1/R)</text>
<rect x="23.4" y="277.5" width="23.4" height="10.0" fill="#fff" stroke="#777" stroke-width="0.6"/>
<text x="35.40" y="284.70" font-size="7.0" text-anchor="middle" font-weight="bold" font-family="'Liberation Serif', 'Times New Roman', serif" fill="#000" stroke="#000" stroke-width="0.08" textLength="9.8" lengthAdjust="spacingAndGlyphs" >RG</text>
<polyline points="23.60,362.00 23.93,362.19 24.35,362.43 24.86,362.71 25.43,363.03 26.04,363.38 26.68,363.75 27.34,364.12 28.00,364.50 28.68,364.90 29.39,365.35 30.15,365.82 30.92,366.30 31.70,366.78 32.48,367.23 33.25,367.64 34.00,368.00 34.73,368.31 35.46,368.60 36.18,368.87 36.89,369.10 37.60,369.30 38.31,369.47 39.01,369.61 39.70,369.70 40.38,369.76 41.06,369.79 41.73,369.79 42.39,369.76 43.05,369.68 43.71,369.57 44.35,369.41 45.00,369.20 45.65,368.95 46.31,368.68 46.96,368.36 47.61,368.00 48.25,367.59 48.86,367.12 49.45,366.60 50.00,366.00 50.51,365.33 50.98,364.59 51.42,363.79 51.84,362.93 52.25,362.03 52.66,361.08 53.07,360.10 53.50,359.10 53.94,358.03 54.38,356.88 54.82,355.66 55.26,354.42 55.69,353.18 56.13,351.98 56.57,350.84 57.00,349.80 57.42,348.84 57.83,347.93 58.23,347.06 58.62,346.24 59.03,345.46 59.46,344.73 59.91,344.04 60.40,343.40 60.92,342.80 61.46,342.25 62.02,341.74 62.60,341.28 63.20,340.87 63.82,340.50 64.45,340.17 65.10,339.90 65.76,339.68 66.45,339.53 67.15,339.42 67.86,339.36 68.60,339.34 69.35,339.34 70.11,339.37 70.90,339.40 71.72,339.46 72.57,339.56 73.46,339.70 74.35,339.86 75.24,340.02 76.13,340.19 76.98,340.36 77.80,340.50 78.58,340.65 79.33,340.82 80.06,340.99 80.77,341.16 81.47,341.31 82.18,341.43 82.88,341.50 83.60,341.50 84.32,341.45 85.05,341.38 85.77,341.26 86.50,341.11 87.23,340.91 87.95,340.66 88.67,340.36 89.40,340.00 90.14,339.57 90.89,339.07 91.65,338.51 92.41,337.91 93.16,337.27 93.88,336.61 94.56,335.95 95.20,335.30 95.78,334.66 96.30,334.01 96.78,333.35 97.24,332.68 97.70,331.98 98.16,331.25 98.66,330.50 99.20,329.70 99.79,328.84 100.41,327.91 101.05,326.94 101.71,325.94 102.38,324.95 103.03,323.98 103.68,323.05 104.30,322.20 104.91,321.41 105.54,320.68 106.16,319.97 106.77,319.30 107.37,318.65 107.92,318.00 108.44,317.35 108.90,316.70 109.30,316.05 109.63,315.42 109.93,314.80 110.19,314.19 110.43,313.57 110.67,312.94 110.92,312.28 111.20,311.60 111.50,310.88 111.80,310.14 112.10,309.38 112.40,308.61 112.70,307.82 113.00,307.04 113.30,306.26 113.60,305.50 113.89,304.73 114.17,303.95 114.45,303.16 114.72,302.38 115.01,301.61 115.29,300.87 115.59,300.16 115.90,299.50 116.22,298.87 116.56,298.27 116.90,297.69 117.24,297.14 117.60,296.62 117.96,296.14 118.33,295.70 118.70,295.30 119.07,294.95 119.44,294.66 119.80,294.41 120.18,294.20 120.57,294.01 120.99,293.84 121.43,293.67 121.90,293.50 122.42,293.33 122.99,293.17 123.60,293.02 124.22,292.89 124.84,292.77 125.46,292.66 126.05,292.57 126.60,292.50 127.10,292.45 127.57,292.41 128.02,292.38 128.45,292.38 128.88,292.38 129.33,292.41 129.80,292.45 130.30,292.50 130.79,292.56 131.25,292.64 131.69,292.72 132.16,292.82 132.70,292.94 133.32,293.09 134.08,293.28 135.00,293.50 136.09,293.76 137.32,294.06 138.67,294.39 140.13,294.75 141.65,295.13 143.24,295.54 144.86,295.96 146.50,296.40 148.22,296.88 150.09,297.41 152.04,297.97 154.02,298.54 155.98,299.11 157.86,299.66 159.62,300.16 161.20,300.60 162.59,300.98 163.86,301.33 165.01,301.64 166.08,301.92 167.09,302.17 168.06,302.40 169.03,302.61 170.00,302.80 170.95,302.98 171.83,303.14 172.67,303.28 173.49,303.39 174.31,303.48 175.15,303.53 176.04,303.54 177.00,303.50 178.03,303.41 179.10,303.26 180.22,303.07 181.36,302.84 182.52,302.59 183.68,302.33 184.85,302.06 186.00,301.80 187.12,301.53 188.19,301.23 189.25,300.92 190.33,300.60 191.45,300.28 192.63,299.97 193.91,299.67 195.30,299.40 196.93,299.14 198.82,298.89 200.86,298.64 202.93,298.40 204.93,298.18 206.75,297.99 208.28,297.83 209.40,297.70" fill="none" stroke="#4646ff" stroke-width="1.1" stroke-linejoin="round"/>
<polyline points="23.60,348.80 23.93,349.01 24.35,349.28 24.86,349.60 25.43,349.96 26.04,350.35 26.68,350.74 27.34,351.13 28.00,351.50 28.68,351.87 29.39,352.27 30.15,352.68 30.92,353.09 31.70,353.49 32.48,353.87 33.25,354.21 34.00,354.50 34.73,354.75 35.46,354.98 36.18,355.18 36.89,355.36 37.60,355.50 38.31,355.60 39.01,355.67 39.70,355.70 40.38,355.68 41.06,355.62 41.73,355.52 42.39,355.38 43.05,355.22 43.71,355.03 44.35,354.82 45.00,354.60 45.64,354.40 46.28,354.23 46.91,354.06 47.54,353.86 48.17,353.60 48.79,353.24 49.40,352.75 50.00,352.10 50.60,351.25 51.19,350.21 51.78,349.03 52.36,347.76 52.93,346.45 53.49,345.16 54.05,343.92 54.60,342.80 55.14,341.76 55.66,340.74 56.17,339.75 56.68,338.79 57.18,337.86 57.69,336.97 58.19,336.12 58.70,335.30 59.21,334.52 59.71,333.78 60.22,333.08 60.72,332.41 61.23,331.78 61.74,331.18 62.26,330.62 62.80,330.10 63.35,329.61 63.91,329.16 64.49,328.74 65.07,328.36 65.65,328.02 66.24,327.71 66.82,327.44 67.40,327.20 67.97,327.00 68.52,326.85 69.07,326.73 69.62,326.64 70.19,326.59 70.77,326.57 71.37,326.57 72.00,326.60 72.67,326.67 73.37,326.78 74.09,326.93 74.82,327.11 75.57,327.29 76.32,327.48 77.07,327.65 77.80,327.80 78.53,327.94 79.28,328.08 80.02,328.23 80.77,328.37 81.51,328.49 82.23,328.59 82.93,328.67 83.60,328.70 84.24,328.71 84.85,328.69 85.45,328.66 86.02,328.60 86.59,328.51 87.16,328.38 87.72,328.21 88.30,328.00 88.90,327.72 89.52,327.35 90.14,326.93 90.76,326.49 91.36,326.04 91.93,325.60 92.45,325.22 92.90,324.90 93.27,324.69 93.54,324.58 93.76,324.53 93.95,324.49 94.14,324.42 94.36,324.28 94.63,324.02 95.00,323.60 95.45,323.00 95.97,322.24 96.54,321.37 97.14,320.42 97.76,319.44 98.38,318.46 99.00,317.54 99.60,316.70 100.18,315.93 100.77,315.19 101.36,314.46 101.95,313.76 102.54,313.07 103.13,312.40 103.72,311.74 104.30,311.10 104.89,310.47 105.50,309.87 106.11,309.28 106.72,308.71 107.31,308.15 107.88,307.60 108.41,307.05 108.90,306.50 109.34,305.96 109.74,305.44 110.10,304.94 110.44,304.43 110.77,303.92 111.08,303.40 111.39,302.87 111.70,302.30 112.01,301.70 112.31,301.08 112.60,300.44 112.88,299.78 113.16,299.12 113.44,298.47 113.72,297.82 114.00,297.20 114.28,296.58 114.56,295.95 114.84,295.32 115.12,294.71 115.40,294.11 115.69,293.53 115.99,292.99 116.30,292.50 116.62,292.05 116.94,291.63 117.27,291.24 117.61,290.89 117.96,290.56 118.32,290.25 118.70,289.97 119.10,289.70 119.51,289.46 119.94,289.26 120.38,289.09 120.83,288.94 121.30,288.80 121.78,288.67 122.28,288.54 122.80,288.40 123.34,288.25 123.91,288.10 124.49,287.95 125.09,287.81 125.70,287.67 126.31,287.56 126.91,287.47 127.50,287.40 128.08,287.36 128.65,287.35 129.22,287.35 129.79,287.38 130.36,287.41 130.93,287.47 131.51,287.53 132.10,287.60 132.67,287.68 133.20,287.77 133.71,287.86 134.24,287.98 134.81,288.10 135.44,288.25 136.17,288.41 137.00,288.60 137.93,288.81 138.93,289.03 140.00,289.27 141.14,289.53 142.35,289.81 143.65,290.12 145.03,290.45 146.50,290.80 148.13,291.21 149.95,291.67 151.89,292.17 153.89,292.69 155.89,293.21 157.82,293.69 159.61,294.13 161.20,294.50 162.59,294.80 163.83,295.06 164.96,295.27 166.01,295.46 167.00,295.61 167.98,295.75 168.97,295.88 170.00,296.00 171.05,296.11 172.08,296.22 173.09,296.31 174.10,296.38 175.11,296.43 176.12,296.45 177.15,296.44 178.20,296.40 179.27,296.31 180.37,296.18 181.48,296.02 182.59,295.83 183.71,295.63 184.82,295.41 185.92,295.20 187.00,295.00 188.02,294.80 188.97,294.60 189.89,294.40 190.82,294.19 191.78,293.97 192.83,293.75 193.99,293.53 195.30,293.30 196.88,293.05 198.75,292.77 200.78,292.48 202.87,292.19 204.89,291.92 206.73,291.67 208.27,291.46 209.40,291.30" fill="none" stroke="#ff4646" stroke-width="1.1" stroke-linejoin="round"/>
<line x1="70.2" y1="388.9" x2="82.5" y2="388.9" stroke="#4646ff" stroke-width="0.9"/>
<text x="83.90" y="390.50" font-size="4.55" text-anchor="start" font-weight="bold" font-family="'Liberation Sans', Arial, sans-serif" fill="#000" stroke="#000" stroke-width="0.15" textLength="27.3" lengthAdjust="spacingAndGlyphs" >RG NORMAL</text>
<line x1="113.1" y1="388.9" x2="125.4" y2="388.9" stroke="#ff4646" stroke-width="0.9"/>
<text x="126.80" y="390.50" font-size="4.55" text-anchor="start" font-weight="bold" font-family="'Liberation Sans', Arial, sans-serif" fill="#000" stroke="#000" stroke-width="0.15" textLength="16.2" lengthAdjust="spacingAndGlyphs" >RG DFD</text>
<text x="105.10" y="404.30" font-size="11.5" text-anchor="middle" font-weight="normal" font-family="'Liberation Serif', 'Times New Roman', serif" fill="#000" >(e)</text>
<line x1="25.1" y1="413.0" x2="25.1" y2="504.2" stroke="#8a8a8a" stroke-width="0.8"/>
<text x="23.30" y="416.50" font-size="4.6" text-anchor="end" font-weight="bold" font-family="'Liberation Sans', Arial, sans-serif" fill="#000" stroke="#000" stroke-width="0.2" >1.8</text>
<line x1="23.8" y1="414.9" x2="25.1" y2="414.9" stroke="#777" stroke-width="0.5"/>
<text x="23.30" y="424.60" font-size="4.6" text-anchor="end" font-weight="bold" font-family="'Liberation Sans', Arial, sans-serif" fill="#000" stroke="#000" stroke-width="0.2" >1.7</text>
<line x1="23.8" y1="423.0" x2="25.1" y2="423.0" stroke="#777" stroke-width="0.5"/>
<text x="23.30" y="432.70" font-size="4.6" text-anchor="end" font-weight="bold" font-family="'Liberation Sans', Arial, sans-serif" fill="#000" stroke="#000" stroke-width="0.2" >1.6</text>
<line x1="23.8" y1="431.1" x2="25.1" y2="431.1" stroke="#777" stroke-width="0.5"/>
<text x="23.30" y="440.80" font-size="4.6" text-anchor="end" font-weight="bold" font-family="'Liberation Sans', Arial, sans-serif" fill="#000" stroke="#000" stroke-width="0.2" >1.5</text>
<line x1="23.8" y1="439.2" x2="25.1" y2="439.2" stroke="#777" stroke-width="0.5"/>
<text x="23.30" y="448.90" font-size="4.6" text-anchor="end" font-weight="bold" font-family="'Liberation Sans', Arial, sans-serif" fill="#000" stroke="#000" stroke-width="0.2" >1.4</text>
<line x1="23.8" y1="447.3" x2="25.1" y2="447.3" stroke="#777" stroke-width="0.5"/>
<text x="23.30" y="457.00" font-size="4.6" text-anchor="end" font-weight="bold" font-family="'Liberation Sans', Arial, sans-serif" fill="#000" stroke="#000" stroke-width="0.2" >1.3</text>
<line x1="23.8" y1="455.4" x2="25.1" y2="455.4" stroke="#777" stroke-width="0.5"/>
<text x="23.30" y="465.10" font-size="4.6" text-anchor="end" font-weight="bold" font-family="'Liberation Sans', Arial, sans-serif" fill="#000" stroke="#000" stroke-width="0.2" >1.2</text>
<line x1="23.8" y1="463.5" x2="25.1" y2="463.5" stroke="#777" stroke-width="0.5"/>
<text x="23.30" y="473.10" font-size="4.6" text-anchor="end" font-weight="bold" font-family="'Liberation Sans', Arial, sans-serif" fill="#000" stroke="#000" stroke-width="0.2" >1.1</text>
<line x1="23.8" y1="471.5" x2="25.1" y2="471.5" stroke="#777" stroke-width="0.5"/>
<text x="23.30" y="481.20" font-size="4.6" text-anchor="end" font-weight="bold" font-family="'Liberation Sans', Arial, sans-serif" fill="#000" stroke="#000" stroke-width="0.2" >1</text>
<line x1="23.8" y1="479.6" x2="25.1" y2="479.6" stroke="#777" stroke-width="0.5"/>
<text x="23.30" y="489.30" font-size="4.6" text-anchor="end" font-weight="bold" font-family="'Liberation Sans', Arial, sans-serif" fill="#000" stroke="#000" stroke-width="0.2" >0.9</text>
<line x1="23.8" y1="487.7" x2="25.1" y2="487.7" stroke="#777" stroke-width="0.5"/>
<text x="23.30" y="497.40" font-size="4.6" text-anchor="end" font-weight="bold" font-family="'Liberation Sans', Arial, sans-serif" fill="#000" stroke="#000" stroke-width="0.2" >0.8</text>
<line x1="23.8" y1="495.8" x2="25.1" y2="495.8" stroke="#777" stroke-width="0.5"/>
<line x1="25.1" y1="504.2" x2="211.1" y2="504.2" stroke="#000" stroke-width="1.2"/>
<text x="25.60" y="508.90" font-size="4.5" text-anchor="middle" font-weight="bold" font-family="'Liberation Sans', Arial, sans-serif" fill="#000" stroke="#000" stroke-width="0.16" >1000</text>
<text x="37.00" y="508.90" font-size="4.5" text-anchor="middle" font-weight="bold" font-family="'Liberation Sans', Arial, sans-serif" fill="#000" stroke="#000" stroke-width="0.16" >1049</text>
<text x="48.40" y="508.90" font-size="4.5" text-anchor="middle" font-weight="bold" font-family="'Liberation Sans', Arial, sans-serif" fill="#000" stroke="#000" stroke-width="0.16" >1098</text>
<text x="59.80" y="508.90" font-size="4.5" text-anchor="middle" font-weight="bold" font-family="'Liberation Sans', Arial, sans-serif" fill="#000" stroke="#000" stroke-width="0.16" >1146</text>
<text x="71.20" y="508.90" font-size="4.5" text-anchor="middle" font-weight="bold" font-family="'Liberation Sans', Arial, sans-serif" fill="#000" stroke="#000" stroke-width="0.16" >1194</text>
<text x="82.60" y="508.90" font-size="4.5" text-anchor="middle" font-weight="bold" font-family="'Liberation Sans', Arial, sans-serif" fill="#000" stroke="#000" stroke-width="0.16" >1242</text>
<text x="94.00" y="508.90" font-size="4.5" text-anchor="middle" font-weight="bold" font-family="'Liberation Sans', Arial, sans-serif" fill="#000" stroke="#000" stroke-width="0.16" >1291</text>
<text x="105.40" y="508.90" font-size="4.5" text-anchor="middle" font-weight="bold" font-family="'Liberation Sans', Arial, sans-serif" fill="#000" stroke="#000" stroke-width="0.16" >1340</text>
<text x="116.80" y="508.90" font-size="4.5" text-anchor="middle" font-weight="bold" font-family="'Liberation Sans', Arial, sans-serif" fill="#000" stroke="#000" stroke-width="0.16" >1390</text>
<text x="128.20" y="508.90" font-size="4.5" text-anchor="middle" font-weight="bold" font-family="'Liberation Sans', Arial, sans-serif" fill="#000" stroke="#000" stroke-width="0.16" >1440</text>
<text x="139.60" y="508.90" font-size="4.5" text-anchor="middle" font-weight="bold" font-family="'Liberation Sans', Arial, sans-serif" fill="#000" stroke="#000" stroke-width="0.16" >1490</text>
<text x="151.00" y="508.90" font-size="4.5" text-anchor="middle" font-weight="bold" font-family="'Liberation Sans', Arial, sans-serif" fill="#000" stroke="#000" stroke-width="0.16" >1539</text>
<text x="162.40" y="508.90" font-size="4.5" text-anchor="middle" font-weight="bold" font-family="'Liberation Sans', Arial, sans-serif" fill="#000" stroke="#000" stroke-width="0.16" >1588</text>
<text x="173.80" y="508.90" font-size="4.5" text-anchor="middle" font-weight="bold" font-family="'Liberation Sans', Arial, sans-serif" fill="#000" stroke="#000" stroke-width="0.16" >1637</text>
<text x="185.20" y="508.90" font-size="4.5" text-anchor="middle" font-weight="bold" font-family="'Liberation Sans', Arial, sans-serif" fill="#000" stroke="#000" stroke-width="0.16" >1686</text>
<text x="196.60" y="508.90" font-size="4.5" text-anchor="middle" font-weight="bold" font-family="'Liberation Sans', Arial, sans-serif" fill="#000" stroke="#000" stroke-width="0.16" >1736</text>
<text x="208.00" y="508.90" font-size="4.5" text-anchor="middle" font-weight="bold" font-family="'Liberation Sans', Arial, sans-serif" fill="#000" stroke="#000" stroke-width="0.16" >1786</text>
<text x="119.10" y="514.95" font-size="4.5" text-anchor="middle" font-weight="bold" font-family="'Liberation Sans', Arial, sans-serif" fill="#000" stroke="#000" stroke-width="0.15" >Wavelength (nm)</text>
<text x="0.00" y="0.00" font-size="4.7" text-anchor="middle" font-weight="bold" font-family="'Liberation Sans', Arial, sans-serif" fill="#000" stroke="#000" stroke-width="0.15" textLength="44.5" lengthAdjust="spacingAndGlyphs" transform="translate(16.0,458.8) rotate(-90)">Absorbance (log 1/R)</text>
<rect x="25.6" y="410.3" width="24.1" height="10.099999999999966" fill="#fff" stroke="#777" stroke-width="0.6"/>
<text x="37.80" y="417.90" font-size="7.2" text-anchor="middle" font-weight="bold" font-family="'Liberation Serif', 'Times New Roman', serif" fill="#000" stroke="#000" stroke-width="0.08" textLength="8.8" lengthAdjust="spacingAndGlyphs" >RE</text>
<polyline points="25.30,490.20 25.76,490.49 26.38,490.88 27.12,491.35 27.94,491.87 28.80,492.41 29.67,492.94 30.52,493.45 31.30,493.90 32.03,494.32 32.76,494.74 33.49,495.15 34.21,495.55 34.93,495.92 35.65,496.26 36.38,496.56 37.10,496.80 37.83,497.00 38.55,497.16 39.27,497.29 40.00,497.38 40.73,497.42 41.45,497.43 42.17,497.39 42.90,497.30 43.63,497.15 44.38,496.94 45.13,496.67 45.87,496.36 46.61,496.03 47.33,495.68 48.03,495.34 48.70,495.00 49.34,494.69 49.97,494.39 50.59,494.08 51.18,493.77 51.75,493.43 52.30,493.04 52.81,492.61 53.30,492.10 53.74,491.53 54.14,490.91 54.51,490.24 54.86,489.53 55.19,488.77 55.51,487.98 55.85,487.15 56.20,486.30 56.56,485.38 56.91,484.38 57.26,483.33 57.61,482.25 57.97,481.17 58.33,480.12 58.71,479.12 59.10,478.20 59.50,477.35 59.91,476.55 60.32,475.78 60.74,475.05 61.18,474.35 61.63,473.68 62.11,473.03 62.60,472.40 63.12,471.78 63.66,471.18 64.22,470.60 64.79,470.05 65.38,469.54 65.98,469.07 66.59,468.65 67.20,468.30 67.81,468.01 68.40,467.78 69.00,467.59 69.62,467.46 70.26,467.36 70.92,467.31 71.64,467.29 72.40,467.30 73.24,467.36 74.15,467.49 75.11,467.66 76.09,467.86 77.09,468.08 78.07,468.31 79.01,468.52 79.90,468.70 80.74,468.87 81.55,469.07 82.34,469.26 83.11,469.45 83.85,469.62 84.59,469.76 85.30,469.86 86.00,469.90 86.68,469.91 87.33,469.90 87.96,469.86 88.58,469.78 89.18,469.66 89.78,469.48 90.39,469.23 91.00,468.90 91.61,468.51 92.20,468.07 92.79,467.57 93.37,467.01 93.97,466.38 94.59,465.67 95.23,464.88 95.90,464.00 96.64,462.96 97.44,461.72 98.27,460.36 99.13,458.95 99.96,457.55 100.75,456.23 101.47,455.06 102.10,454.10 102.62,453.38 103.04,452.82 103.40,452.40 103.72,452.07 104.01,451.78 104.31,451.51 104.63,451.19 105.00,450.80 105.41,450.35 105.84,449.90 106.29,449.44 106.74,448.97 107.20,448.50 107.65,448.01 108.08,447.51 108.50,447.00 108.90,446.49 109.29,445.99 109.67,445.49 110.04,444.98 110.41,444.43 110.78,443.85 111.14,443.21 111.50,442.50 111.86,441.72 112.21,440.88 112.56,439.98 112.91,439.04 113.26,438.08 113.60,437.09 113.95,436.09 114.30,435.10 114.65,434.08 115.00,432.99 115.35,431.88 115.71,430.76 116.06,429.65 116.41,428.59 116.75,427.60 117.10,426.70 117.43,425.89 117.76,425.14 118.07,424.44 118.39,423.80 118.71,423.20 119.05,422.64 119.41,422.10 119.80,421.60 120.21,421.13 120.63,420.71 121.07,420.32 121.53,419.97 122.00,419.65 122.50,419.35 123.04,419.07 123.60,418.80 124.21,418.55 124.85,418.31 125.53,418.10 126.24,417.91 126.96,417.75 127.68,417.60 128.40,417.49 129.10,417.40 129.80,417.34 130.49,417.31 131.19,417.30 131.89,417.32 132.60,417.36 133.30,417.42 134.00,417.50 134.70,417.60 135.40,417.72 136.09,417.86 136.77,418.02 137.46,418.20 138.16,418.40 138.86,418.62 139.57,418.85 140.30,419.10 140.99,419.35 141.61,419.61 142.21,419.87 142.83,420.16 143.53,420.47 144.34,420.83 145.31,421.23 146.50,421.70 147.97,422.26 149.72,422.93 151.65,423.66 153.69,424.43 155.75,425.19 157.74,425.92 159.59,426.56 161.20,427.10 162.59,427.53 163.83,427.89 164.96,428.19 166.01,428.44 167.00,428.65 167.98,428.84 168.97,429.02 170.00,429.20 171.05,429.38 172.08,429.56 173.09,429.72 174.10,429.86 175.11,429.96 176.12,430.03 177.15,430.04 178.20,430.00 179.27,429.89 180.37,429.70 181.48,429.46 182.59,429.19 183.71,428.89 184.82,428.58 185.92,428.28 187.00,428.00 188.07,427.73 189.12,427.44 190.18,427.15 191.22,426.86 192.25,426.57 193.28,426.29 194.29,426.03 195.30,425.80 196.29,425.59 197.26,425.40 198.21,425.22 199.16,425.05 200.11,424.90 201.06,424.75 202.02,424.62 203.00,424.50 204.05,424.39 205.19,424.29 206.36,424.20 207.53,424.12 208.64,424.05 209.64,423.99 210.47,423.94 211.10,423.90" fill="none" stroke="#4646ff" stroke-width="1.1" stroke-linejoin="round"/>
<polyline points="25.30,495.00 25.76,495.28 26.38,495.65 27.12,496.09 27.94,496.58 28.80,497.09 29.67,497.60 30.52,498.08 31.30,498.50 32.03,498.89 32.76,499.29 33.49,499.67 34.21,500.04 34.93,500.39 35.65,500.71 36.38,500.98 37.10,501.20 37.83,501.38 38.55,501.52 39.27,501.62 40.00,501.69 40.73,501.72 41.45,501.72 42.17,501.68 42.90,501.60 43.63,501.48 44.38,501.31 45.13,501.10 45.87,500.86 46.61,500.59 47.33,500.30 48.03,500.00 48.70,499.70 49.34,499.41 49.96,499.14 50.56,498.87 51.14,498.57 51.71,498.23 52.26,497.84 52.79,497.37 53.30,496.80 53.79,496.13 54.25,495.38 54.69,494.55 55.12,493.66 55.54,492.73 55.95,491.77 56.37,490.78 56.80,489.80 57.24,488.77 57.67,487.65 58.11,486.48 58.55,485.30 58.99,484.14 59.42,483.03 59.86,482.00 60.30,481.10 60.73,480.32 61.15,479.62 61.56,479.00 61.98,478.44 62.41,477.92 62.85,477.43 63.31,476.97 63.80,476.50 64.33,476.04 64.89,475.61 65.47,475.20 66.07,474.82 66.67,474.47 67.27,474.15 67.85,473.86 68.40,473.60 68.90,473.36 69.36,473.15 69.79,472.96 70.22,472.80 70.67,472.68 71.17,472.60 71.74,472.57 72.40,472.60 73.18,472.71 74.06,472.89 75.02,473.14 76.02,473.43 77.04,473.73 78.04,474.03 79.01,474.29 79.90,474.50 80.74,474.67 81.55,474.84 82.34,474.99 83.11,475.12 83.85,475.24 84.59,475.32 85.30,475.38 86.00,475.40 86.67,475.41 87.30,475.41 87.90,475.40 88.49,475.36 89.09,475.26 89.69,475.10 90.33,474.85 91.00,474.50 91.72,474.05 92.47,473.50 93.24,472.88 94.02,472.18 94.82,471.43 95.62,470.62 96.42,469.78 97.20,468.90 98.00,467.93 98.85,466.84 99.71,465.66 100.56,464.46 101.38,463.27 102.14,462.15 102.82,461.14 103.40,460.30 103.85,459.64 104.19,459.13 104.44,458.72 104.64,458.38 104.81,458.08 104.99,457.77 105.21,457.42 105.50,457.00 105.84,456.52 106.21,456.03 106.60,455.52 107.00,454.99 107.42,454.45 107.84,453.89 108.27,453.31 108.70,452.70 109.14,452.07 109.61,451.43 110.09,450.77 110.58,450.09 111.06,449.39 111.53,448.66 111.98,447.90 112.40,447.10 112.79,446.25 113.16,445.34 113.52,444.40 113.86,443.43 114.19,442.45 114.52,441.49 114.86,440.57 115.20,439.70 115.55,438.86 115.90,438.04 116.25,437.23 116.60,436.44 116.95,435.69 117.30,434.98 117.65,434.31 118.00,433.70 118.34,433.15 118.68,432.64 119.01,432.18 119.34,431.76 119.68,431.38 120.04,431.03 120.41,430.70 120.80,430.40 121.21,430.13 121.62,429.89 122.04,429.69 122.47,429.52 122.93,429.37 123.42,429.24 123.94,429.11 124.50,429.00 125.11,428.90 125.77,428.81 126.47,428.74 127.19,428.69 127.92,428.65 128.66,428.62 129.39,428.60 130.10,428.60 130.80,428.61 131.50,428.64 132.20,428.69 132.91,428.74 133.60,428.81 134.28,428.87 134.95,428.94 135.60,429.00 136.22,429.05 136.80,429.09 137.36,429.12 137.91,429.16 138.46,429.21 139.04,429.27 139.65,429.37 140.30,429.50 140.95,429.66 141.55,429.84 142.14,430.04 142.78,430.27 143.49,430.52 144.32,430.79 145.31,431.08 146.50,431.40 147.97,431.76 149.72,432.18 151.65,432.63 153.69,433.09 155.75,433.56 157.74,434.01 159.59,434.43 161.20,434.80 162.59,435.12 163.83,435.42 164.96,435.69 166.01,435.94 167.00,436.17 167.98,436.39 168.97,436.60 170.00,436.80 171.05,437.01 172.08,437.23 173.09,437.45 174.10,437.65 175.11,437.82 176.12,437.94 177.15,438.01 178.20,438.00 179.27,437.90 180.37,437.72 181.48,437.47 182.59,437.18 183.71,436.86 184.82,436.55 185.92,436.25 187.00,436.00 188.07,435.78 189.12,435.57 190.18,435.36 191.22,435.16 192.25,434.97 193.28,434.78 194.29,434.59 195.30,434.40 196.29,434.21 197.26,434.02 198.21,433.83 199.16,433.64 200.11,433.46 201.06,433.29 202.02,433.14 203.00,433.00 204.05,432.88 205.19,432.78 206.36,432.69 207.53,432.61 208.64,432.55 209.64,432.49 210.47,432.44 211.10,432.40" fill="none" stroke="#ff4646" stroke-width="1.1" stroke-linejoin="round"/>
<line x1="72.8" y1="522.9" x2="85.1" y2="522.9" stroke="#4646ff" stroke-width="0.9"/>
<text x="87.10" y="524.50" font-size="4.55" text-anchor="start" font-weight="bold" font-family="'Liberation Sans', Arial, sans-serif" fill="#000" stroke="#000" stroke-width="0.15" textLength="26.1" lengthAdjust="spacingAndGlyphs" >RE NORMAL</text>
<line x1="115.1" y1="522.9" x2="127.4" y2="522.9" stroke="#ff4646" stroke-width="0.9"/>
<text x="128.80" y="524.50" font-size="4.55" text-anchor="start" font-weight="bold" font-family="'Liberation Sans', Arial, sans-serif" fill="#000" stroke="#000" stroke-width="0.15" textLength="15.2" lengthAdjust="spacingAndGlyphs" >RE DFD</text>
<text x="105.50" y="542.80" font-size="11.5" text-anchor="middle" font-weight="normal" font-family="'Liberation Serif', 'Times New Roman', serif" fill="#000" >(g)</text>
<polygon points="245.10,58.30 245.10,23.40 245.35,24.85 245.60,27.27 245.85,29.68 246.10,32.10 246.35,34.52 246.60,37.08 246.85,39.69 247.10,42.29 247.35,44.90 247.60,47.50 247.60,58.30" fill="#000" stroke="none"/>
<polygon points="247.60,58.30 247.60,47.50 247.85,48.65 248.10,49.79 248.35,50.94 248.60,52.08 248.85,53.22 249.10,54.32 249.35,55.43 249.60,56.53 249.85,57.64 250.00,58.30 250.00,58.30" fill="#8989fb" stroke="none"/>
<polygon points="250.40,58.30 250.40,58.60 250.65,61.18 250.90,63.77 250.90,58.30" fill="#8989fb" stroke="none"/>
<polygon points="250.90,58.30 250.90,63.77 251.15,66.35 251.40,68.93 251.65,71.38 251.90,73.25 252.15,75.13 252.40,77.00 252.65,78.88 252.90,80.75 253.15,82.63 253.40,84.20 253.65,85.70 253.90,87.20 254.15,88.70 254.40,90.20 254.65,91.70 254.90,92.75 255.15,93.12 255.40,93.50 255.65,93.65 255.90,92.90 256.15,92.15 256.40,91.40 256.65,90.65 256.90,89.80 257.15,88.80 257.40,87.80 257.65,86.80 257.90,85.80 258.15,85.25 258.40,85.00 258.65,84.75 258.90,84.70 259.15,84.95 259.40,85.20 259.65,85.42 259.90,85.55 260.15,85.67 260.40,85.80 260.65,83.05 260.90,78.80 261.15,72.30 261.40,64.80 261.40,58.30" fill="#000" stroke="none"/>
<polygon points="261.40,58.30 261.40,64.80 261.65,58.74 261.90,59.44 262.15,59.88 262.20,59.76 262.20,58.30" fill="#8989fb" stroke="none"/>
<polygon points="262.90,58.30 262.90,39.43 263.15,28.18 263.40,25.91 263.65,24.78 263.90,24.40 264.15,24.03 264.40,23.99 264.65,24.46 264.90,24.93 265.15,25.41 265.40,25.80 265.65,26.17 265.90,26.55 266.15,26.92 266.40,27.00 266.65,27.00 266.90,27.00 267.15,27.00 267.40,27.00 267.65,27.00 267.90,27.00 268.15,27.00 268.40,27.00 268.65,27.00 268.90,27.00 269.15,27.00 269.40,27.00 269.65,27.00 269.90,27.00 270.15,27.00 270.40,27.00 270.65,28.07 270.90,29.14 271.15,30.21 271.40,31.29 271.65,32.36 271.90,33.43 272.15,34.50 272.40,35.57 272.65,36.71 272.90,37.90 273.15,39.08 273.40,40.27 273.65,41.45 273.90,42.63 274.15,43.82 274.40,45.00 274.65,46.19 274.80,46.90 274.80,58.30" fill="#000" stroke="none"/>
<polygon points="274.80,58.30 274.80,46.90 275.05,47.58 275.30,48.25 275.55,48.93 275.80,49.61 276.05,50.29 276.30,50.96 276.55,51.64 276.80,52.32 277.05,52.99 277.30,53.57 277.55,54.00 277.80,54.43 278.05,54.86 278.30,55.29 278.55,55.71 278.80,56.14 279.05,56.57 279.30,57.00 279.55,57.43 279.80,57.86 280.00,58.20 280.00,58.30" fill="#8989fb" stroke="none"/>
<polygon points="280.00,58.30 280.00,58.20 280.25,58.28 280.50,58.37 280.75,58.45 281.00,58.73 281.25,59.30 281.50,59.87 281.75,60.44 282.00,61.01 282.25,61.58 282.50,62.14 282.75,62.68 283.00,63.08 283.25,63.49 283.50,63.89 283.75,64.30 284.00,64.70 284.25,64.43 284.50,64.17 284.75,63.90 285.00,63.63 285.25,63.37 285.50,63.10 285.75,62.85 286.00,62.60 286.25,62.35 286.50,62.10 286.75,61.85 287.00,61.80 287.25,62.05 287.50,62.30 287.75,62.55 288.00,62.80 288.25,63.05 288.50,63.44 288.75,63.86 289.00,64.28 289.25,64.70 289.50,65.12 289.75,65.54 290.00,65.96 290.25,66.19 290.50,65.61 290.75,65.04 291.00,64.47 291.25,63.90 291.50,63.33 291.75,62.65 292.00,61.90 292.25,61.15 292.50,60.40 292.75,59.65 293.00,58.90 293.00,58.30" fill="#8989fb" stroke="none"/>
<polygon points="293.00,58.30 293.00,58.90 293.25,58.65 293.50,58.40 293.75,58.15 294.00,57.80 294.25,57.30 294.50,56.80 294.75,56.30 295.00,55.80 295.25,55.30 295.50,55.10 295.75,54.98 296.00,54.85 296.25,54.73 296.50,54.60 296.75,54.48 297.00,54.35 297.25,54.27 297.50,54.22 297.75,54.16 298.00,54.11 298.25,54.06 298.50,54.01 298.75,53.96 299.00,53.90 299.25,53.85 299.50,53.80 299.75,54.07 300.00,54.34 300.25,54.61 300.50,54.88 300.75,55.15 301.00,55.49 301.25,55.86 301.50,56.23 301.75,56.60 302.00,56.97 302.25,57.34 302.50,57.71 302.70,58.00 302.70,58.30" fill="#8989fb" stroke="none"/>
<polygon points="302.70,58.30 302.70,58.00 302.95,58.12 303.20,58.24 303.45,58.36 303.70,58.47 303.95,58.59 304.20,58.71 304.45,58.83 304.70,58.97 304.95,59.15 305.20,59.32 305.45,59.50 305.70,59.67 305.95,59.85 306.20,60.03 306.45,60.20 306.70,60.38 306.95,60.55 307.20,60.73 307.45,60.91 307.70,61.10 307.95,61.29 308.20,61.47 308.45,61.66 308.70,61.85 308.95,62.04 309.20,62.22 309.45,62.41 309.70,62.60 309.95,63.14 310.20,63.67 310.45,64.21 310.70,64.74 310.95,65.28 311.20,65.56 311.40,65.48 311.40,58.30" fill="#8989fb" stroke="none"/>
<polygon points="311.40,58.30 311.40,65.48 311.65,65.46 311.90,65.77 312.15,66.08 312.40,66.39 312.65,66.70 312.90,67.01 313.15,67.32 313.40,67.63 313.65,67.94 313.90,68.25 314.15,68.56 314.40,68.85 314.65,69.14 314.90,69.43 315.15,69.72 315.40,70.01 315.65,70.30 315.90,70.59 316.15,70.88 316.40,71.17 316.65,71.46 316.90,71.75 317.15,72.04 317.40,72.36 317.65,72.68 317.90,73.00 318.15,73.33 318.40,73.65 318.65,73.97 318.90,74.29 319.15,74.62 319.40,74.94 319.65,75.26 319.90,75.58 320.15,75.91 320.40,76.19 320.65,76.40 320.90,76.62 321.15,76.84 321.40,77.05 321.65,77.27 321.90,77.49 322.15,77.70 322.40,77.92 322.65,78.14 322.90,78.35 323.15,78.57 323.40,78.67 323.65,78.58 323.90,78.50 324.15,78.42 324.40,78.33 324.65,78.25 324.90,78.08 325.15,77.77 325.40,77.46 325.65,77.15 325.90,76.84 326.15,76.53 326.40,76.22 326.65,75.91 326.90,75.60 327.15,74.92 327.40,74.23 327.65,73.55 327.90,72.87 328.15,72.18 328.40,71.50 328.40,58.30" fill="#000" stroke="none"/>
<polygon points="328.40,58.30 328.40,71.50 328.65,71.11 328.90,70.72 329.15,70.33 329.40,69.94 329.65,69.55 329.90,69.16 330.15,68.94 330.40,68.84 330.65,68.74 330.90,68.64 331.15,68.54 331.40,68.44 331.65,68.34 331.90,68.24 332.15,68.14 332.40,68.04 332.65,68.04 332.90,68.10 333.15,68.16 333.40,68.22 333.65,68.29 333.90,68.35 334.15,68.41 334.40,68.47 334.65,68.43 334.90,68.31 335.15,68.19 335.40,68.07 335.65,67.95 335.90,67.83 336.15,67.71 336.40,67.60 336.65,67.52 336.90,67.60 337.15,67.68 337.40,67.77 337.65,67.85 337.90,67.93 338.10,68.00 338.10,58.30" fill="#8989fb" stroke="none"/>
<polygon points="338.10,58.30 338.10,68.00 338.35,67.92 338.60,67.83 338.85,67.75 339.10,67.67 339.35,67.58 339.60,67.50 339.60,58.30" fill="#000" stroke="none"/>
<polygon points="339.60,58.30 339.60,67.50 339.85,67.56 340.10,67.62 340.35,67.68 340.60,67.74 340.85,67.80 341.10,67.86 341.35,67.92 341.60,67.98 341.70,68.00 341.70,58.30" fill="#8989fb" stroke="none"/>
<polygon points="341.70,58.30 341.70,68.00 341.95,68.50 342.20,69.00 342.45,69.50 342.70,70.00 342.95,70.50 343.20,71.00 343.45,71.25 343.70,71.50 343.95,71.75 344.20,72.00 344.45,72.25 344.70,72.50 344.95,72.56 345.20,72.48 345.45,72.41 345.70,72.33 345.95,72.26 346.20,72.18 346.45,72.11 346.70,72.03 346.95,71.75 347.20,71.33 347.45,70.92 347.70,70.50 347.95,70.08 348.20,69.67 348.45,68.54 348.70,66.93 348.95,65.32 349.20,62.53 349.45,60.40 349.70,58.90 349.80,58.30 349.80,58.30" fill="#000" stroke="none"/>
<polygon points="350.60,58.30 350.60,58.30 350.85,56.88 351.10,54.94 351.35,52.87 351.60,50.80 351.85,50.07 352.10,49.34 352.35,48.60 352.60,47.87 352.85,47.14 353.10,46.63 353.35,46.45 353.60,46.26 353.85,46.08 354.10,45.90 354.35,45.97 354.60,46.04 354.85,46.11 355.10,46.18 355.35,46.25 355.60,46.32 355.85,46.39 356.10,46.34 356.35,46.27 356.60,46.19 356.85,46.12 357.10,46.05 357.35,45.97 357.60,45.90 357.85,45.93 358.10,45.96 358.35,45.99 358.60,46.02 358.85,46.05 359.10,46.08 359.35,46.13 359.60,46.30 359.85,46.47 360.10,46.63 360.35,46.80 360.60,46.97 360.85,47.13 361.10,47.30 361.35,47.45 361.60,47.60 361.85,47.76 362.10,47.91 362.35,48.06 362.60,48.21 362.85,48.37 363.10,48.52 363.35,48.67 363.60,48.83 363.85,48.99 364.10,49.16 364.35,49.32 364.60,49.48 364.85,49.65 365.10,49.81 365.35,49.97 365.60,50.13 365.85,50.31 366.10,50.50 366.35,50.68 366.60,50.87 366.85,51.05 367.10,51.23 367.35,51.42 367.60,51.60 367.85,51.79 368.10,52.00 368.35,52.25 368.60,52.50 368.60,58.30" fill="#000" stroke="none"/>
<polygon points="368.60,58.30 368.60,52.50 368.85,52.67 369.10,52.83 369.35,53.00 369.60,53.17 369.85,53.33 370.10,53.50 370.35,53.67 370.60,53.85 370.85,54.03 371.10,54.22 371.35,54.40 371.60,54.59 371.85,54.77 372.10,54.96 372.35,55.14 372.60,55.33 372.85,55.51 373.10,55.70 373.35,55.88 373.60,56.07 373.85,56.25 374.10,56.43 374.35,56.62 374.60,56.80 374.85,56.99 375.10,57.17 375.35,57.35 375.60,57.52 375.85,57.70 376.10,57.88 376.35,58.05 376.60,58.23 376.70,58.30 376.70,58.30" fill="#8989fb" stroke="none"/>
<polygon points="376.70,58.30 376.70,58.30 376.95,58.44 377.20,58.58 377.45,58.72 377.70,58.86 377.95,58.99 378.20,59.13 378.45,59.27 378.70,59.32 378.95,59.35 379.20,59.38 379.45,59.41 379.70,59.44 379.95,59.47 380.20,59.50 380.45,59.53 380.70,59.56 380.95,59.59 381.20,59.60 381.45,59.60 381.70,59.60 381.95,59.60 382.20,59.60 382.45,59.60 382.70,59.60 382.95,59.60 383.20,59.60 383.45,59.60 383.70,59.60 383.95,59.60 384.20,59.60 384.45,59.60 384.70,59.60 384.95,59.60 385.20,59.59 385.45,59.59 385.70,59.58 385.95,59.58 386.20,59.57 386.45,59.56 386.70,59.56 386.95,59.55 387.20,59.55 387.45,59.54 387.70,59.53 387.95,59.53 388.20,59.52 388.45,59.51 388.70,59.51 388.95,59.50 389.20,59.46 389.45,59.41 389.70,59.36 389.95,59.31 390.20,59.26 390.45,59.21 390.70,59.16 390.95,59.11 391.20,59.06 391.45,59.01 391.70,58.84 391.95,58.65 392.20,58.46 392.40,58.30 392.40,58.30" fill="#8989fb" stroke="none"/>
<polygon points="392.40,58.30 392.40,58.30 392.65,58.07 392.90,57.84 393.15,57.61 393.40,57.38 393.65,57.19 393.90,57.15 394.15,57.11 394.40,57.07 394.65,57.03 394.90,56.98 395.15,56.94 395.40,56.90 395.65,56.86 395.90,56.82 396.15,56.74 396.40,56.64 396.65,56.54 396.90,56.44 397.15,56.34 397.40,56.24 397.65,56.14 397.90,56.04 398.15,55.94 398.40,55.84 398.65,55.74 398.90,55.64 399.15,55.55 399.40,55.47 399.65,55.38 399.90,55.30 400.15,55.22 400.40,55.13 400.65,55.05 400.90,54.97 401.15,54.88 401.40,54.80 401.65,54.72 401.90,54.63 402.15,54.56 402.40,54.49 402.65,54.43 402.90,54.36 403.15,54.29 403.40,54.23 403.65,54.16 403.90,54.09 404.15,54.03 404.40,53.96 404.65,53.89 404.90,53.83 405.15,53.77 405.40,53.72 405.65,53.68 405.90,53.63 406.15,53.58 406.40,53.54 406.65,53.49 406.90,53.44 407.15,53.40 407.40,53.35 407.65,53.30 407.90,53.25 408.15,53.21 408.20,51.35 408.20,58.30" fill="#8989fb" stroke="none"/>
<polygon points="408.20,58.30 408.20,51.35 408.45,49.53 408.70,49.56 408.95,49.60 409.20,49.63 409.45,49.66 409.70,49.70 409.95,49.73 410.20,49.76 410.45,49.79 410.70,49.77 410.95,49.74 411.20,49.70 411.45,49.67 411.70,49.64 411.95,49.60 412.20,49.57 412.45,49.53 412.70,50.00 412.70,58.30" fill="#000" stroke="none"/>
<polygon points="412.70,58.30 412.70,50.00 412.95,50.50 413.20,50.50 413.45,50.50 413.60,48.65 413.60,58.30" fill="#8989fb" stroke="none"/>
<polygon points="413.60,58.30 413.60,48.65 413.85,46.80 414.10,46.80 414.35,46.80 414.60,46.80 414.85,46.80 415.10,46.80 415.20,49.10 415.20,58.30" fill="#000" stroke="none"/>
<polygon points="415.20,58.30 415.20,49.10 415.45,51.40 415.70,51.40 415.95,51.40 416.20,51.40 416.45,51.40 416.70,51.40 416.80,48.20 416.80,58.30" fill="#8989fb" stroke="none"/>
<polygon points="416.80,58.30 416.80,48.20 417.05,45.00 417.30,45.00 417.55,45.00 417.80,45.00 418.05,45.00 418.30,44.00 418.55,44.00 418.80,44.00 419.05,44.00 419.30,39.10 419.55,39.10 419.80,39.10 420.05,40.50 420.30,40.50 420.55,40.50 420.80,40.50 421.05,40.50 421.30,40.50 421.55,40.50 421.80,38.65 422.05,36.80 422.30,36.80 422.55,36.80 422.80,25.50 423.05,25.50 423.30,25.50 423.55,25.50 423.80,25.50 424.05,25.50 424.10,25.50 424.10,58.30" fill="#000" stroke="none"/>
<line x1="245.0" y1="58.3" x2="424.0" y2="58.3" stroke="#222" stroke-width="0.7"/>
<line x1="245.0" y1="12.3" x2="245.0" y2="98.4" stroke="#111" stroke-width="1.0"/>
<text x="240.40" y="15.10" font-size="4.3" text-anchor="end" font-weight="bold" font-family="'Liberation Sans', Arial, sans-serif" fill="#000" stroke="#000" stroke-width="0.05" >0.6</text>
<line x1="243.5" y1="13.2" x2="245.0" y2="13.2" stroke="#333" stroke-width="0.5"/>
<text x="240.40" y="22.90" font-size="4.3" text-anchor="end" font-weight="bold" font-family="'Liberation Sans', Arial, sans-serif" fill="#000" stroke="#000" stroke-width="0.05" >0.5</text>
<line x1="243.5" y1="21.0" x2="245.0" y2="21.0" stroke="#333" stroke-width="0.5"/>
<text x="240.40" y="30.30" font-size="4.3" text-anchor="end" font-weight="bold" font-family="'Liberation Sans', Arial, sans-serif" fill="#000" stroke="#000" stroke-width="0.05" >0.4</text>
<line x1="243.5" y1="28.4" x2="245.0" y2="28.4" stroke="#333" stroke-width="0.5"/>
<text x="240.40" y="37.20" font-size="4.3" text-anchor="end" font-weight="bold" font-family="'Liberation Sans', Arial, sans-serif" fill="#000" stroke="#000" stroke-width="0.05" >0.3</text>
<line x1="243.5" y1="35.3" x2="245.0" y2="35.3" stroke="#333" stroke-width="0.5"/>
<text x="240.40" y="44.70" font-size="4.3" text-anchor="end" font-weight="bold" font-family="'Liberation Sans', Arial, sans-serif" fill="#000" stroke="#000" stroke-width="0.05" >0.2</text>
<line x1="243.5" y1="42.8" x2="245.0" y2="42.8" stroke="#333" stroke-width="0.5"/>
<text x="240.40" y="52.40" font-size="4.3" text-anchor="end" font-weight="bold" font-family="'Liberation Sans', Arial, sans-serif" fill="#000" stroke="#000" stroke-width="0.05" >0.1</text>
<line x1="243.5" y1="50.5" x2="245.0" y2="50.5" stroke="#333" stroke-width="0.5"/>
<text x="240.40" y="60.10" font-size="4.3" text-anchor="end" font-weight="bold" font-family="'Liberation Sans', Arial, sans-serif" fill="#000" stroke="#000" stroke-width="0.05" >0</text>
<line x1="243.5" y1="58.2" x2="245.0" y2="58.2" stroke="#333" stroke-width="0.5"/>
<text x="240.40" y="67.90" font-size="4.3" text-anchor="end" font-weight="bold" font-family="'Liberation Sans', Arial, sans-serif" fill="#000" stroke="#000" stroke-width="0.05" >-0.1</text>
<line x1="243.5" y1="66.0" x2="245.0" y2="66.0" stroke="#333" stroke-width="0.5"/>
<text x="240.40" y="75.70" font-size="4.3" text-anchor="end" font-weight="bold" font-family="'Liberation Sans', Arial, sans-serif" fill="#000" stroke="#000" stroke-width="0.05" >-0.2</text>
<line x1="243.5" y1="73.8" x2="245.0" y2="73.8" stroke="#333" stroke-width="0.5"/>
<text x="240.40" y="83.40" font-size="4.3" text-anchor="end" font-weight="bold" font-family="'Liberation Sans', Arial, sans-serif" fill="#000" stroke="#000" stroke-width="0.05" >-0.3</text>
<line x1="243.5" y1="81.5" x2="245.0" y2="81.5" stroke="#333" stroke-width="0.5"/>
<text x="240.40" y="91.30" font-size="4.3" text-anchor="end" font-weight="bold" font-family="'Liberation Sans', Arial, sans-serif" fill="#000" stroke="#000" stroke-width="0.05" >-0.4</text>
<line x1="243.5" y1="89.4" x2="245.0" y2="89.4" stroke="#333" stroke-width="0.5"/>
<text x="240.40" y="99.10" font-size="4.3" text-anchor="end" font-weight="bold" font-family="'Liberation Sans', Arial, sans-serif" fill="#000" stroke="#000" stroke-width="0.05" >-0.5</text>
<line x1="243.5" y1="97.2" x2="245.0" y2="97.2" stroke="#333" stroke-width="0.5"/>
<line x1="244.1" y1="15.15" x2="245.0" y2="15.15" stroke="#555" stroke-width="0.4"/>
<line x1="244.1" y1="17.10" x2="245.0" y2="17.10" stroke="#555" stroke-width="0.4"/>
<line x1="244.1" y1="19.05" x2="245.0" y2="19.05" stroke="#555" stroke-width="0.4"/>
<line x1="244.1" y1="22.85" x2="245.0" y2="22.85" stroke="#555" stroke-width="0.4"/>
<line x1="244.1" y1="24.70" x2="245.0" y2="24.70" stroke="#555" stroke-width="0.4"/>
<line x1="244.1" y1="26.55" x2="245.0" y2="26.55" stroke="#555" stroke-width="0.4"/>
<line x1="244.1" y1="30.12" x2="245.0" y2="30.12" stroke="#555" stroke-width="0.4"/>
<line x1="244.1" y1="31.85" x2="245.0" y2="31.85" stroke="#555" stroke-width="0.4"/>
<line x1="244.1" y1="33.57" x2="245.0" y2="33.57" stroke="#555" stroke-width="0.4"/>
<line x1="244.1" y1="37.17" x2="245.0" y2="37.17" stroke="#555" stroke-width="0.4"/>
<line x1="244.1" y1="39.05" x2="245.0" y2="39.05" stroke="#555" stroke-width="0.4"/>
<line x1="244.1" y1="40.92" x2="245.0" y2="40.92" stroke="#555" stroke-width="0.4"/>
<line x1="244.1" y1="44.72" x2="245.0" y2="44.72" stroke="#555" stroke-width="0.4"/>
<line x1="244.1" y1="46.65" x2="245.0" y2="46.65" stroke="#555" stroke-width="0.4"/>
<line x1="244.1" y1="48.58" x2="245.0" y2="48.58" stroke="#555" stroke-width="0.4"/>
<line x1="244.1" y1="52.42" x2="245.0" y2="52.42" stroke="#555" stroke-width="0.4"/>
<line x1="244.1" y1="54.35" x2="245.0" y2="54.35" stroke="#555" stroke-width="0.4"/>
<line x1="244.1" y1="56.28" x2="245.0" y2="56.28" stroke="#555" stroke-width="0.4"/>
<line x1="244.1" y1="60.15" x2="245.0" y2="60.15" stroke="#555" stroke-width="0.4"/>
<line x1="244.1" y1="62.10" x2="245.0" y2="62.10" stroke="#555" stroke-width="0.4"/>
<line x1="244.1" y1="64.05" x2="245.0" y2="64.05" stroke="#555" stroke-width="0.4"/>
<line x1="244.1" y1="67.95" x2="245.0" y2="67.95" stroke="#555" stroke-width="0.4"/>
<line x1="244.1" y1="69.90" x2="245.0" y2="69.90" stroke="#555" stroke-width="0.4"/>
<line x1="244.1" y1="71.85" x2="245.0" y2="71.85" stroke="#555" stroke-width="0.4"/>
<line x1="244.1" y1="75.72" x2="245.0" y2="75.72" stroke="#555" stroke-width="0.4"/>
<line x1="244.1" y1="77.65" x2="245.0" y2="77.65" stroke="#555" stroke-width="0.4"/>
<line x1="244.1" y1="79.58" x2="245.0" y2="79.58" stroke="#555" stroke-width="0.4"/>
<line x1="244.1" y1="83.47" x2="245.0" y2="83.47" stroke="#555" stroke-width="0.4"/>
<line x1="244.1" y1="85.45" x2="245.0" y2="85.45" stroke="#555" stroke-width="0.4"/>
<line x1="244.1" y1="87.43" x2="245.0" y2="87.43" stroke="#555" stroke-width="0.4"/>
<line x1="244.1" y1="91.35" x2="245.0" y2="91.35" stroke="#555" stroke-width="0.4"/>
<line x1="244.1" y1="93.30" x2="245.0" y2="93.30" stroke="#555" stroke-width="0.4"/>
<line x1="244.1" y1="95.25" x2="245.0" y2="95.25" stroke="#555" stroke-width="0.4"/>
<line x1="244.5" y1="98.4" x2="424.0" y2="98.4" stroke="#000" stroke-width="1.4"/>
<text x="246.30" y="106.00" font-size="4.6" text-anchor="middle" font-weight="bold" font-family="'Liberation Sans', Arial, sans-serif" fill="#000" stroke="#000" stroke-width="0.03" >1000</text>
<text x="264.40" y="106.00" font-size="4.6" text-anchor="middle" font-weight="bold" font-family="'Liberation Sans', Arial, sans-serif" fill="#000" stroke="#000" stroke-width="0.03" >1175</text>
<text x="285.90" y="106.00" font-size="4.6" text-anchor="middle" font-weight="bold" font-family="'Liberation Sans', Arial, sans-serif" fill="#000" stroke="#000" stroke-width="0.03" >1354</text>
<text x="310.00" y="106.00" font-size="4.6" text-anchor="middle" font-weight="bold" font-family="'Liberation Sans', Arial, sans-serif" fill="#000" stroke="#000" stroke-width="0.03" >1532</text>
<text x="332.00" y="106.00" font-size="4.6" text-anchor="middle" font-weight="bold" font-family="'Liberation Sans', Arial, sans-serif" fill="#000" stroke="#000" stroke-width="0.03" >1711</text>
<text x="353.80" y="106.00" font-size="4.6" text-anchor="middle" font-weight="bold" font-family="'Liberation Sans', Arial, sans-serif" fill="#000" stroke="#000" stroke-width="0.03" >1890</text>
<text x="375.50" y="106.00" font-size="4.6" text-anchor="middle" font-weight="bold" font-family="'Liberation Sans', Arial, sans-serif" fill="#000" stroke="#000" stroke-width="0.03" >2069</text>
<text x="397.20" y="106.00" font-size="4.6" text-anchor="middle" font-weight="bold" font-family="'Liberation Sans', Arial, sans-serif" fill="#000" stroke="#000" stroke-width="0.03" >2247</text>
<text x="420.40" y="106.00" font-size="4.6" text-anchor="middle" font-weight="bold" font-family="'Liberation Sans', Arial, sans-serif" fill="#000" stroke="#000" stroke-width="0.03" >2426</text>
<text x="330.10" y="112.55" font-size="4.1" text-anchor="middle" font-weight="bold" font-family="'Liberation Sans', Arial, sans-serif" fill="#000" stroke="#000" stroke-width="0.05" textLength="67.80000000000001" lengthAdjust="spacingAndGlyphs" >X-Variables (DFD, Factor = 4, 80:1.129)</text>
<text x="0.00" y="0.00" font-size="3.9" text-anchor="middle" font-weight="bold" font-family="'Liberation Sans', Arial, sans-serif" fill="#000" stroke="#000" stroke-width="0.15" textLength="47.4" lengthAdjust="spacingAndGlyphs" transform="translate(229.3,51.4) rotate(-90)">Regression Coefficients (B)</text>
<text x="315.80" y="132.50" font-size="11.5" text-anchor="middle" font-weight="normal" font-family="'Liberation Serif', 'Times New Roman', serif" fill="#000" >(b)</text>
<polygon points="240.80,178.70 240.80,185.00 241.05,190.17 241.30,191.02 241.55,191.87 241.80,192.72 242.00,193.40 242.00,178.70" fill="#8989fb" stroke="none"/>
<polygon points="242.00,178.70 242.00,193.40 242.25,194.05 242.50,194.70 242.75,195.35 243.00,196.00 243.25,196.24 243.50,196.48 243.75,196.71 244.00,196.95 244.25,197.19 244.50,197.43 244.75,197.67 245.00,197.90 245.25,197.88 245.50,197.68 245.75,197.49 246.00,197.29 246.25,197.09 246.50,196.89 246.75,196.70 247.00,196.50 247.25,196.16 247.50,195.83 247.75,195.49 248.00,195.15 248.25,194.82 248.50,194.48 248.75,194.14 249.00,193.80 249.25,193.47 249.50,193.18 249.75,192.91 250.00,192.64 250.25,192.36 250.50,192.09 250.75,191.82 251.00,191.55 251.25,191.27 251.50,191.00 251.75,190.76 252.00,190.52 252.25,190.28 252.50,190.04 252.75,189.80 253.00,189.56 253.25,189.32 253.50,189.08 253.75,188.84 254.00,188.50 254.25,188.00 254.50,187.50 254.75,187.00 255.00,186.50 255.25,186.00 255.50,185.50 255.75,185.00 256.00,184.50 256.25,184.08 256.50,183.67 256.60,183.50 256.60,178.70" fill="#000" stroke="none"/>
<polygon points="256.60,178.70 256.60,183.50 256.85,182.98 257.10,182.46 257.35,181.93 257.60,181.41 257.85,180.89 258.10,180.37 258.35,179.85 258.60,179.33 258.85,178.80 259.10,178.30 259.35,177.80 259.60,177.30 259.85,176.80 260.10,176.30 260.35,175.80 260.60,175.30 260.85,174.80 261.10,174.30 261.35,173.80 261.60,173.30 261.85,172.80 262.10,172.17 262.35,171.35 262.50,170.86 262.50,178.70" fill="#8989fb" stroke="none"/>
<polygon points="262.50,178.70 262.50,170.86 262.75,170.00 263.00,169.00 263.25,168.00 263.50,167.00 263.75,166.28 264.00,165.56 264.25,164.83 264.50,164.32 264.75,164.14 265.00,163.95 265.25,163.76 265.50,163.57 265.75,163.39 266.00,163.20 266.25,163.13 266.50,163.06 266.75,162.99 267.00,162.92 267.25,162.85 267.50,162.78 267.75,162.71 268.00,162.63 268.25,162.53 268.50,162.44 268.75,162.35 269.00,162.26 269.25,162.17 269.50,162.07 269.75,161.85 270.00,161.08 270.25,160.31 270.50,159.54 270.75,158.77 271.00,158.00 271.25,157.13 271.50,156.27 271.75,155.40 272.00,154.53 272.25,153.67 272.50,152.80 272.75,152.70 273.00,152.61 273.25,152.51 273.50,152.41 273.75,152.31 274.00,152.22 274.25,152.12 274.50,152.31 274.75,152.58 275.00,152.85 275.25,153.12 275.50,153.39 275.75,153.65 276.00,153.92 276.25,154.19 276.50,154.46 276.75,154.72 277.00,154.99 277.25,155.22 277.50,155.43 277.75,155.64 278.00,155.84 278.25,156.05 278.50,156.26 278.75,156.47 279.00,156.67 279.25,156.88 279.50,157.09 279.75,157.29 280.00,157.50 280.25,157.72 280.50,157.95 280.75,158.18 281.00,158.40 281.25,158.62 281.50,158.85 281.75,159.07 282.00,159.30 282.25,159.52 282.50,159.75 282.75,159.97 283.00,160.20 283.25,160.42 283.50,160.64 283.75,160.86 284.00,161.08 284.25,161.30 284.50,161.52 284.75,161.74 285.00,161.96 285.25,162.19 285.50,162.41 285.75,162.63 286.00,162.85 286.25,163.07 286.50,163.34 286.75,163.69 287.00,164.03 287.25,164.38 287.50,164.73 287.75,165.07 288.00,165.42 288.25,165.77 288.50,166.11 288.75,166.46 289.00,166.81 289.25,167.15 289.50,167.50 289.75,168.04 290.00,168.57 290.25,169.11 290.50,169.65 290.75,170.18 291.00,170.72 291.25,171.26 291.50,171.79 291.75,172.33 292.00,172.87 292.25,173.40 292.50,173.94 292.75,174.48 293.00,175.23 293.25,176.32 293.50,177.40 293.75,178.48 293.80,178.70 293.80,178.70" fill="#000" stroke="none"/>
<polygon points="293.80,178.70 293.80,178.70 294.05,178.97 294.30,179.24 294.55,179.51 294.80,179.78 295.05,180.03 295.30,180.20 295.55,180.37 295.80,180.53 296.05,180.70 296.30,180.87 296.55,181.03 296.80,181.20 297.05,181.37 297.30,181.53 297.55,181.70 297.80,181.87 298.05,182.03 298.30,182.20 298.55,182.37 298.80,182.53 299.05,182.70 299.30,182.87 299.55,183.03 299.80,183.20 300.05,183.37 300.30,183.53 300.55,183.70 300.80,183.87 301.05,184.03 301.30,184.17 301.55,184.31 301.80,184.46 302.05,184.60 302.30,184.74 302.55,184.89 302.80,185.03 303.05,185.17 303.10,185.20 303.10,178.70" fill="#8989fb" stroke="none"/>
<polygon points="303.10,178.70 303.10,185.20 303.35,185.52 303.60,185.83 303.85,186.15 304.10,186.46 304.35,186.78 304.60,187.09 304.85,187.41 305.10,187.70 305.35,187.93 305.60,188.17 305.85,188.41 306.10,188.65 306.35,188.88 306.60,189.12 306.85,189.36 307.10,189.54 307.35,189.65 307.60,189.75 307.85,189.86 308.10,189.97 308.35,190.07 308.60,190.18 308.85,190.28 309.10,190.39 309.35,190.49 309.60,190.60 309.85,190.56 310.10,190.52 310.35,190.47 310.60,190.43 310.85,190.39 311.10,190.35 311.35,190.31 311.60,190.27 311.85,190.22 312.10,190.16 312.35,190.07 312.60,189.98 312.85,189.89 313.10,189.80 313.35,189.71 313.60,189.62 313.85,189.53 314.10,189.44 314.35,189.34 314.60,189.24 314.85,189.15 315.10,189.05 315.35,188.95 315.60,188.85 315.85,188.75 316.10,188.66 316.35,188.56 316.60,188.41 316.85,188.19 317.10,187.97 317.35,187.76 317.60,187.54 317.85,187.32 318.10,187.10 318.35,186.88 318.60,186.66 318.85,186.44 319.10,186.03 319.35,185.57 319.60,185.11 319.85,184.65 320.10,184.18 320.35,183.67 320.60,183.12 320.85,182.57 321.10,182.02 321.35,180.87 321.60,179.32 321.70,178.70 321.70,178.70" fill="#000" stroke="none"/>
<polygon points="321.70,178.70 321.70,178.70 321.95,177.58 322.20,176.45 322.45,175.50 322.70,174.67 322.95,173.83 323.20,173.00 323.45,172.17 323.70,171.68 323.95,171.29 324.20,170.89 324.45,170.50 324.70,170.11 324.95,169.71 325.20,169.32 325.45,168.94 325.70,168.64 325.95,168.35 326.20,168.05 326.45,167.75 326.70,167.45 326.95,167.15 327.20,166.86 327.45,166.56 327.70,166.33 327.95,166.12 328.20,165.92 328.45,165.71 328.70,165.50 328.95,165.29 329.20,165.08 329.45,164.94 329.70,164.85 329.95,164.76 330.20,164.67 330.45,164.57 330.70,164.48 330.95,164.39 331.20,164.30 331.45,164.20 331.70,164.11 331.95,164.02 332.20,163.97 332.45,163.93 332.70,163.90 332.95,163.86 333.20,163.82 333.45,163.78 333.70,163.75 333.95,163.71 334.20,163.64 334.45,163.57 334.70,163.51 334.95,163.44 335.20,163.37 335.45,163.30 335.70,163.23 335.95,163.22 336.20,163.25 336.45,163.29 336.70,163.32 336.95,163.36 337.20,163.39 337.45,163.42 337.70,163.46 337.95,163.49 338.20,163.55 338.45,163.61 338.70,163.68 338.95,163.74 339.20,163.80 339.45,163.86 339.70,163.93 339.95,163.99 340.20,164.17 340.45,164.39 340.70,164.61 340.95,164.83 341.20,165.05 341.45,165.26 341.70,165.48 341.95,165.70 342.20,165.92 342.45,166.14 342.70,166.35 342.95,166.57 343.20,166.79 343.45,167.01 343.70,167.23 343.95,167.44 344.20,167.62 344.45,167.80 344.70,167.98 344.95,168.16 345.20,168.34 345.45,168.52 345.70,168.70 345.95,168.88 346.20,169.06 346.45,169.24 346.70,169.42 346.95,169.60 347.20,169.78 347.45,169.96 347.70,170.21 347.95,170.48 348.20,170.74 348.45,171.01 348.70,171.27 348.95,171.54 349.20,171.80 349.45,172.06 349.70,172.33 349.95,172.59 350.20,172.86 350.45,173.12 350.70,173.39 350.95,173.66 351.20,173.93 351.45,174.21 351.70,174.49 351.95,174.77 352.20,175.05 352.45,175.33 352.70,175.61 352.95,175.89 353.20,176.17 353.45,176.44 353.70,176.72 353.95,176.99 354.20,177.27 354.45,177.54 354.70,177.82 354.95,178.09 355.20,178.37 355.45,178.64 355.50,178.70 355.50,178.70" fill="#000" stroke="none"/>
<polygon points="355.50,178.70 355.50,178.70 355.75,178.78 356.00,178.87 356.25,178.95 356.50,179.03 356.75,179.12 357.00,179.20 357.25,179.25 357.50,179.30 357.75,179.35 358.00,179.40 358.25,179.45 358.50,179.50 358.50,178.70" fill="#8989fb" stroke="none"/>
<polygon points="358.50,178.70 358.50,179.50 358.75,179.35 359.00,179.20 359.25,179.35 359.50,179.50 359.75,179.65 360.00,179.80 360.25,179.95 360.50,180.10 360.75,180.25 361.00,180.40 361.25,180.55 361.50,180.70 361.75,180.85 362.00,181.00 362.25,181.17 362.50,181.34 362.75,181.51 363.00,181.68 363.25,181.85 363.50,182.02 363.75,182.19 364.00,182.36 364.25,182.53 364.50,182.70 364.75,182.87 365.00,183.06 365.25,183.27 365.50,183.47 365.75,183.67 366.00,183.88 366.25,184.08 366.50,184.28 366.75,184.48 367.00,184.69 367.25,184.89 367.50,185.09 367.75,185.30 368.00,185.50 368.25,185.69 368.50,185.88 368.75,186.07 369.00,186.27 369.25,186.46 369.50,186.65 369.75,186.84 370.00,187.03 370.25,187.23 370.50,187.42 370.75,187.61 371.00,187.80 371.25,187.97 371.50,188.14 371.75,188.31 372.00,188.48 372.25,188.65 372.50,188.82 372.75,188.99 373.00,189.15 373.25,189.32 373.50,189.49 373.75,189.66 374.00,189.83 374.25,189.98 374.50,190.12 374.75,190.26 375.00,190.40 375.25,190.53 375.50,190.67 375.75,190.81 376.00,190.95 376.25,191.09 376.50,191.22 376.75,191.36 377.00,191.50 377.25,191.62 377.50,191.74 377.75,191.86 378.00,191.98 378.25,192.10 378.50,192.22 378.75,192.34 379.00,192.47 379.25,192.59 379.50,192.71 379.75,192.83 380.00,192.86 380.25,192.75 380.50,192.65 380.75,192.54 381.00,192.43 381.25,192.33 381.50,192.22 381.75,192.12 382.00,192.01 382.25,191.91 382.50,191.80 382.75,191.71 383.00,191.61 383.25,191.52 383.50,191.43 383.75,191.33 384.00,191.24 384.25,191.14 384.50,191.05 384.75,190.96 385.00,190.86 385.25,190.77 385.50,190.67 385.75,190.58 386.00,190.50 386.25,190.42 386.50,190.34 386.75,190.26 387.00,190.18 387.25,190.10 387.50,190.02 387.75,189.94 388.00,189.86 388.25,189.78 388.50,189.70 388.75,189.62 389.00,189.53 389.25,189.45 389.50,189.37 389.75,189.28 390.00,189.20 390.25,189.12 390.50,189.03 390.75,188.95 391.00,188.87 391.25,188.78 391.50,188.70 391.75,188.54 392.00,188.39 392.25,188.23 392.50,188.07 392.75,187.91 393.00,187.76 393.25,187.60 393.50,187.44 393.75,187.29 394.00,187.13 394.25,186.97 394.50,186.81 394.75,186.66 395.00,186.50 395.25,186.37 395.50,186.24 395.75,186.11 396.00,185.98 396.25,185.85 396.50,185.72 396.75,185.59 397.00,185.46 397.25,185.33 397.50,185.20 397.75,185.07 398.00,184.93 398.25,184.80 398.50,184.67 398.75,184.54 399.00,184.41 399.25,184.28 399.50,184.15 399.75,183.99 400.00,183.81 400.25,183.63 400.50,183.45 400.75,183.27 401.00,183.09 401.25,182.91 401.50,182.72 401.75,182.54 402.00,182.36 402.25,182.18 402.50,182.00 402.75,181.84 403.00,181.68 403.25,181.52 403.50,181.36 403.75,181.20 404.00,181.05 404.25,180.89 404.50,180.73 404.70,180.60 404.70,178.70" fill="#000" stroke="none"/>
<polygon points="404.70,178.70 404.70,180.60 404.95,180.60 405.20,180.60 405.45,180.60 405.70,180.60 405.95,180.60 406.20,180.60 406.45,180.60 406.70,180.60 406.95,180.60 407.20,180.60 407.45,180.60 407.70,180.60 407.95,180.60 408.20,180.60 408.45,180.60 408.70,180.60 408.95,180.60 409.00,180.60 409.00,178.70" fill="#8989fb" stroke="none"/>
<line x1="240.8" y1="178.7" x2="409.0" y2="178.7" stroke="#222" stroke-width="0.7"/>
<line x1="240.8" y1="151.0" x2="240.8" y2="234.6" stroke="#111" stroke-width="1.0"/>
<text x="236.80" y="153.20" font-size="4.3" text-anchor="end" font-weight="bold" font-family="'Liberation Sans', Arial, sans-serif" fill="#000" stroke="#000" stroke-width="0.05" >2</text>
<line x1="239.3" y1="151.3" x2="240.8" y2="151.3" stroke="#333" stroke-width="0.5"/>
<text x="236.80" y="167.00" font-size="4.3" text-anchor="end" font-weight="bold" font-family="'Liberation Sans', Arial, sans-serif" fill="#000" stroke="#000" stroke-width="0.05" >1</text>
<line x1="239.3" y1="165.1" x2="240.8" y2="165.1" stroke="#333" stroke-width="0.5"/>
<text x="236.80" y="180.60" font-size="4.3" text-anchor="end" font-weight="bold" font-family="'Liberation Sans', Arial, sans-serif" fill="#000" stroke="#000" stroke-width="0.05" >0</text>
<line x1="239.3" y1="178.7" x2="240.8" y2="178.7" stroke="#333" stroke-width="0.5"/>
<text x="236.80" y="194.40" font-size="4.3" text-anchor="end" font-weight="bold" font-family="'Liberation Sans', Arial, sans-serif" fill="#000" stroke="#000" stroke-width="0.05" >-1</text>
<line x1="239.3" y1="192.5" x2="240.8" y2="192.5" stroke="#333" stroke-width="0.5"/>
<text x="236.80" y="208.20" font-size="4.3" text-anchor="end" font-weight="bold" font-family="'Liberation Sans', Arial, sans-serif" fill="#000" stroke="#000" stroke-width="0.05" >-2</text>
<line x1="239.3" y1="206.3" x2="240.8" y2="206.3" stroke="#333" stroke-width="0.5"/>
<text x="236.80" y="221.90" font-size="4.3" text-anchor="end" font-weight="bold" font-family="'Liberation Sans', Arial, sans-serif" fill="#000" stroke="#000" stroke-width="0.05" >-3</text>
<line x1="239.3" y1="220.0" x2="240.8" y2="220.0" stroke="#333" stroke-width="0.5"/>
<text x="236.80" y="235.60" font-size="4.3" text-anchor="end" font-weight="bold" font-family="'Liberation Sans', Arial, sans-serif" fill="#000" stroke="#000" stroke-width="0.05" >-4</text>
<line x1="239.3" y1="233.7" x2="240.8" y2="233.7" stroke="#333" stroke-width="0.5"/>
<line x1="239.9" y1="154.75" x2="240.8" y2="154.75" stroke="#555" stroke-width="0.4"/>
<line x1="239.9" y1="158.20" x2="240.8" y2="158.20" stroke="#555" stroke-width="0.4"/>
<line x1="239.9" y1="161.65" x2="240.8" y2="161.65" stroke="#555" stroke-width="0.4"/>
<line x1="239.9" y1="168.50" x2="240.8" y2="168.50" stroke="#555" stroke-width="0.4"/>
<line x1="239.9" y1="171.90" x2="240.8" y2="171.90" stroke="#555" stroke-width="0.4"/>
<line x1="239.9" y1="175.30" x2="240.8" y2="175.30" stroke="#555" stroke-width="0.4"/>
<line x1="239.9" y1="182.15" x2="240.8" y2="182.15" stroke="#555" stroke-width="0.4"/>
<line x1="239.9" y1="185.60" x2="240.8" y2="185.60" stroke="#555" stroke-width="0.4"/>
<line x1="239.9" y1="189.05" x2="240.8" y2="189.05" stroke="#555" stroke-width="0.4"/>
<line x1="239.9" y1="195.95" x2="240.8" y2="195.95" stroke="#555" stroke-width="0.4"/>
<line x1="239.9" y1="199.40" x2="240.8" y2="199.40" stroke="#555" stroke-width="0.4"/>
<line x1="239.9" y1="202.85" x2="240.8" y2="202.85" stroke="#555" stroke-width="0.4"/>
<line x1="239.9" y1="209.73" x2="240.8" y2="209.73" stroke="#555" stroke-width="0.4"/>
<line x1="239.9" y1="213.15" x2="240.8" y2="213.15" stroke="#555" stroke-width="0.4"/>
<line x1="239.9" y1="216.57" x2="240.8" y2="216.57" stroke="#555" stroke-width="0.4"/>
<line x1="239.9" y1="223.43" x2="240.8" y2="223.43" stroke="#555" stroke-width="0.4"/>
<line x1="239.9" y1="226.85" x2="240.8" y2="226.85" stroke="#555" stroke-width="0.4"/>
<line x1="239.9" y1="230.27" x2="240.8" y2="230.27" stroke="#555" stroke-width="0.4"/>
<line x1="240.3" y1="234.6" x2="409.0" y2="234.6" stroke="#000" stroke-width="1.4"/>
<text x="242.30" y="242.00" font-size="4.6" text-anchor="middle" font-weight="bold" font-family="'Liberation Sans', Arial, sans-serif" fill="#000" stroke="#000" stroke-width="0.03" >1000</text>
<text x="260.30" y="242.00" font-size="4.6" text-anchor="middle" font-weight="bold" font-family="'Liberation Sans', Arial, sans-serif" fill="#000" stroke="#000" stroke-width="0.03" >1100</text>
<text x="279.40" y="242.00" font-size="4.6" text-anchor="middle" font-weight="bold" font-family="'Liberation Sans', Arial, sans-serif" fill="#000" stroke="#000" stroke-width="0.03" >1197</text>
<text x="300.00" y="242.00" font-size="4.6" text-anchor="middle" font-weight="bold" font-family="'Liberation Sans', Arial, sans-serif" fill="#000" stroke="#000" stroke-width="0.03" >1297</text>
<text x="321.20" y="242.00" font-size="4.6" text-anchor="middle" font-weight="bold" font-family="'Liberation Sans', Arial, sans-serif" fill="#000" stroke="#000" stroke-width="0.03" >1397</text>
<text x="342.80" y="242.00" font-size="4.6" text-anchor="middle" font-weight="bold" font-family="'Liberation Sans', Arial, sans-serif" fill="#000" stroke="#000" stroke-width="0.03" >1497</text>
<text x="363.80" y="242.00" font-size="4.6" text-anchor="middle" font-weight="bold" font-family="'Liberation Sans', Arial, sans-serif" fill="#000" stroke="#000" stroke-width="0.03" >1597</text>
<text x="384.20" y="242.00" font-size="4.6" text-anchor="middle" font-weight="bold" font-family="'Liberation Sans', Arial, sans-serif" fill="#000" stroke="#000" stroke-width="0.03" >1696</text>
<text x="406.40" y="242.00" font-size="4.6" text-anchor="middle" font-weight="bold" font-family="'Liberation Sans', Arial, sans-serif" fill="#000" stroke="#000" stroke-width="0.03" >1796</text>
<text x="318.75" y="250.25" font-size="4.1" text-anchor="middle" font-weight="bold" font-family="'Liberation Sans', Arial, sans-serif" fill="#000" stroke="#000" stroke-width="0.05" textLength="71.89999999999998" lengthAdjust="spacingAndGlyphs" >X-Variables (DFD, Factor = 5, 80:1.75806)</text>
<text x="0.00" y="0.00" font-size="3.9" text-anchor="middle" font-weight="bold" font-family="'Liberation Sans', Arial, sans-serif" fill="#000" stroke="#000" stroke-width="0.15" textLength="47.7" lengthAdjust="spacingAndGlyphs" transform="translate(229.0,189.0) rotate(-90)">Regression Coefficients (B)</text>
<text x="315.70" y="271.40" font-size="11.5" text-anchor="middle" font-weight="normal" font-family="'Liberation Serif', 'Times New Roman', serif" fill="#000" >(d)</text>
<rect x="403.2" y="316.0" width="1.20" height="18.20" fill="#666"/>
<polygon points="241.90,334.20 241.90,361.00 242.15,360.14 242.40,359.28 242.65,358.42 242.90,357.56 243.15,356.70 243.40,355.84 243.65,354.97 243.90,354.10 244.15,353.22 244.40,352.35 244.65,351.47 244.90,350.60 245.15,349.72 245.40,348.85 245.65,347.97 245.90,347.10 246.15,346.22 246.40,345.35 246.65,344.47 246.90,343.60 247.15,342.72 247.40,341.85 247.65,341.05 247.90,340.30 248.15,339.55 248.40,338.80 248.65,338.05 248.90,337.30 249.15,336.55 249.40,335.80 249.65,335.28 249.90,334.92 250.15,334.56 250.40,334.20 250.40,334.20" fill="#8989fb" stroke="none"/>
<polygon points="250.40,334.20 250.40,334.20 250.65,332.87 250.90,331.53 251.15,330.42 251.40,329.46 251.65,328.50 251.90,327.54 252.15,326.58 252.30,326.00 252.30,334.20" fill="#8989fb" stroke="none"/>
<polygon points="252.30,334.20 252.30,326.00 252.55,324.89 252.80,323.78 253.05,322.67 253.30,321.61 253.55,320.64 253.80,319.67 254.05,318.69 254.30,317.72 254.55,316.75 254.80,315.78 255.05,314.86 255.30,314.19 255.55,313.51 255.80,312.84 256.05,312.16 256.30,311.49 256.55,310.81 256.80,310.13 257.05,309.46 257.30,308.78 257.55,308.11 257.80,307.51 258.05,307.04 258.30,306.57 258.55,306.09 258.80,305.62 259.05,305.15 259.30,304.68 259.55,304.25 259.80,303.98 260.05,303.72 260.30,303.46 260.55,303.19 260.80,302.93 261.05,302.67 261.30,302.41 261.55,302.16 261.80,301.92 262.05,301.69 262.30,301.45 262.55,301.21 262.80,300.98 263.05,300.74 263.30,300.58 263.55,300.52 263.80,300.46 264.05,300.40 264.30,300.35 264.55,300.31 264.80,300.37 265.05,300.42 265.30,300.47 265.55,300.53 265.80,300.58 266.05,300.64 266.30,300.69 266.55,300.75 266.80,300.80 267.05,301.57 267.30,302.34 267.55,303.11 267.80,303.88 268.05,304.92 268.30,307.00 268.55,309.08 268.80,311.94 269.05,315.00 269.30,318.06 269.55,321.09 269.80,324.06 270.00,326.44 270.00,334.20" fill="#000" stroke="none"/>
<polygon points="270.00,334.20 270.00,326.44 270.25,329.41 270.50,332.80 270.60,334.20 270.60,334.20" fill="#8989fb" stroke="none"/>
<polygon points="270.60,334.20 270.60,334.20 270.85,334.37 271.10,334.54 271.35,334.71 271.60,334.88 271.85,335.06 272.10,335.23 272.35,335.40 272.60,335.80 272.85,336.53 273.10,337.27 273.35,338.01 273.60,338.75 273.85,339.49 274.10,340.23 274.35,340.97 274.60,341.71 274.85,342.36 275.10,342.66 275.35,342.97 275.60,343.27 275.85,343.57 276.10,343.87 276.35,344.18 276.60,344.48 276.70,344.60 276.70,334.20" fill="#8989fb" stroke="none"/>
<polygon points="276.70,334.20 276.70,344.60 276.95,347.47 277.20,349.50 277.45,350.27 277.70,351.03 277.95,351.79 278.20,352.55 278.45,353.31 278.70,354.07 278.95,354.83 279.20,355.59 279.45,356.27 279.70,356.59 279.95,356.92 280.20,357.25 280.45,357.58 280.70,357.91 280.95,358.24 281.20,358.57 281.45,358.89 281.70,359.22 281.95,359.55 282.20,359.88 282.45,360.21 282.70,360.54 282.95,360.82 283.20,360.95 283.45,361.07 283.70,361.20 283.95,361.32 284.20,361.45 284.45,361.57 284.70,361.70 284.95,361.82 285.20,361.95 285.45,362.07 285.70,362.20 285.95,361.89 286.20,361.58 286.45,361.27 286.70,360.97 286.95,360.66 287.20,360.35 287.45,360.04 287.70,359.73 287.95,359.43 288.20,359.12 288.45,358.81 288.70,358.50 288.95,357.90 289.20,357.30 289.45,356.71 289.70,356.11 289.95,355.51 290.20,354.91 290.45,354.32 290.70,353.72 290.95,353.12 291.20,352.37 291.45,351.58 291.70,350.78 291.95,349.99 292.20,349.20 292.45,348.12 292.70,347.04 292.95,345.97 293.20,344.89 293.45,343.81 293.70,342.73 293.80,342.30 293.80,334.20" fill="#000" stroke="none"/>
<polygon points="293.80,334.20 293.80,342.30 294.05,342.11 294.30,341.92 294.55,341.73 294.80,341.53 295.05,341.34 295.30,341.15 295.55,340.96 295.80,340.77 296.05,340.57 296.30,340.38 296.55,340.19 296.80,340.00 297.05,339.86 297.30,339.73 297.55,339.59 297.80,339.46 298.05,339.32 298.30,339.19 298.55,339.05 298.80,338.91 299.05,338.78 299.30,338.64 299.55,338.51 299.80,338.37 300.05,338.24 300.30,338.10 300.55,337.99 300.80,337.87 301.05,337.76 301.30,337.64 301.55,337.53 301.80,337.41 302.05,337.30 302.30,337.19 302.55,337.07 302.80,336.96 303.05,336.84 303.30,336.73 303.55,336.61 303.80,336.50 304.05,336.35 304.30,336.20 304.55,336.05 304.80,335.90 305.05,335.75 305.30,335.60 305.55,335.45 305.80,335.30 306.05,335.15 306.30,335.00 306.55,334.85 306.80,334.70 307.05,334.55 307.30,334.40 307.30,334.20" fill="#8989fb" stroke="none"/>
<polygon points="307.30,334.20 307.30,334.40 307.55,334.19 307.80,333.97 308.05,333.76 308.30,333.55 308.55,333.34 308.80,333.12 309.05,332.91 309.30,332.70 309.55,332.48 309.80,332.27 310.05,332.07 310.30,331.91 310.55,331.74 310.80,331.58 311.05,331.42 311.30,331.25 311.55,331.09 311.80,330.93 312.05,330.75 312.30,330.51 312.55,330.27 312.80,330.02 313.05,329.78 313.30,329.54 313.55,329.29 313.80,329.05 314.05,328.81 314.30,328.57 314.55,328.32 314.80,328.08 315.05,327.84 315.30,327.59 315.55,327.32 315.80,326.89 316.05,326.47 316.30,326.05 316.55,325.62 316.80,325.20 317.05,324.78 317.30,324.35 317.55,323.93 317.80,323.51 318.05,323.08 318.30,322.41 318.55,321.68 318.80,320.94 319.05,320.20 319.30,319.47 319.55,318.73 319.80,317.99 320.05,317.00 320.30,315.82 320.55,314.65 320.80,313.48 321.00,312.54 321.00,334.20" fill="#8989fb" stroke="none"/>
<polygon points="321.20,334.20 321.20,311.60 321.45,309.98 321.70,308.96 321.95,308.84 322.20,308.73 322.45,308.62 322.70,309.65 322.95,310.75 323.20,311.00 323.45,311.25 323.70,311.50 323.95,311.75 324.20,312.00 324.45,312.61 324.70,313.22 324.95,313.83 325.20,314.54 325.45,315.38 325.70,316.23 325.95,317.08 326.20,317.92 326.45,318.79 326.70,319.77 326.95,320.74 327.20,321.71 327.45,323.12 327.70,324.81 327.95,326.51 328.20,328.20 328.20,334.20" fill="#000" stroke="none"/>
<polygon points="328.20,334.20 328.20,328.20 328.45,328.95 328.70,329.70 328.95,330.45 329.20,331.20 329.45,331.87 329.70,332.48 329.95,333.10 330.20,333.71 330.40,334.20 330.40,334.20" fill="#8989fb" stroke="none"/>
<polygon points="330.40,334.20 330.40,334.20 330.65,334.57 330.90,334.94 331.15,335.28 331.40,335.62 331.65,335.96 331.90,336.30 332.15,336.64 332.40,336.98 332.65,337.32 332.90,337.66 333.15,338.00 333.40,338.34 333.65,338.67 333.90,339.01 334.15,339.35 334.40,339.68 334.65,340.02 334.90,340.36 335.15,340.69 335.40,341.03 335.65,341.38 335.90,341.78 336.15,342.17 336.40,342.57 336.65,342.97 336.90,343.37 337.15,343.77 337.40,344.16 337.65,344.56 337.90,344.82 338.15,344.88 338.40,344.94 338.65,344.99 338.90,345.05 339.15,345.11 339.40,345.16 339.65,345.22 339.90,345.28 340.15,345.45 340.20,345.50 340.20,334.20" fill="#8989fb" stroke="none"/>
<polygon points="340.20,334.20 340.20,345.50 340.45,345.65 340.70,345.42 340.95,345.18 341.20,344.94 341.45,344.71 341.70,344.47 341.95,344.24 342.20,344.00 342.45,344.25 342.70,344.50 342.95,344.75 343.20,344.42 343.45,343.95 343.70,343.48 343.95,343.07 344.20,342.95 344.45,342.82 344.70,342.70 344.95,342.57 345.20,342.45 345.45,342.32 345.70,342.20 345.70,334.20" fill="#000" stroke="none"/>
<polygon points="345.70,334.20 345.70,342.20 345.95,341.89 346.20,341.57 346.45,341.26 346.70,341.31 346.95,341.45 347.20,341.58 347.45,341.72 347.70,341.86 347.95,342.00 348.20,342.13 348.45,342.27 348.70,342.19 348.95,342.05 349.20,341.92 349.45,341.78 349.70,341.64 349.95,341.50 350.20,341.37 350.45,341.23 350.70,341.12 350.95,341.02 351.20,340.92 351.45,340.82 351.70,340.72 351.95,340.62 352.20,340.50 352.45,340.37 352.70,340.23 352.95,340.10 353.20,339.97 353.45,339.84 353.70,339.71 353.95,339.58 354.20,339.45 354.45,339.25 354.70,339.00 354.95,338.75 355.20,338.50 355.45,338.25 355.70,338.00 355.95,337.75 356.20,337.50 356.45,337.25 356.70,337.06 356.95,336.95 357.20,336.85 357.45,336.74 357.70,336.64 357.95,336.53 358.20,336.43 358.45,336.32 358.70,336.25 358.95,336.19 359.20,336.12 359.45,336.06 359.70,336.00 359.95,335.94 360.20,335.78 360.45,335.46 360.70,335.15 360.95,334.84 361.20,334.53 361.30,334.40 361.30,334.20" fill="#8989fb" stroke="none"/>
<polygon points="361.30,334.20 361.30,334.40 361.55,334.21 361.80,334.02 362.05,333.84 362.30,333.65 362.55,333.49 362.80,333.44 363.05,333.39 363.30,333.34 363.55,333.29 363.80,333.24 364.05,333.19 364.30,333.14 364.55,333.09 364.80,333.04 365.05,332.98 365.30,332.90 365.55,332.82 365.80,332.73 366.05,332.65 366.30,332.57 366.55,332.48 366.80,332.40 367.05,332.32 367.30,332.23 367.55,332.15 367.80,332.07 368.05,331.99 368.30,331.95 368.55,331.91 368.80,331.87 369.05,331.82 369.30,331.78 369.55,331.74 369.80,331.70 370.05,331.66 370.30,331.62 370.55,331.57 370.80,331.53 371.05,331.49 371.30,331.45 371.55,331.41 371.80,331.37 372.05,331.32 372.30,331.28 372.55,331.24 372.80,331.20 373.05,331.16 373.30,331.12 373.55,331.07 373.80,331.03 374.05,330.99 374.30,330.93 374.55,330.86 374.80,330.80 375.05,330.74 375.30,330.68 375.55,330.61 375.80,330.55 376.05,330.48 376.30,330.39 376.55,330.30 376.80,330.20 377.05,330.11 377.30,330.02 377.55,329.93 377.80,329.83 378.05,329.74 378.30,329.65 378.55,329.56 378.80,329.52 379.05,329.58 379.30,329.63 379.55,329.68 379.80,329.74 380.05,329.79 380.30,329.85 380.55,329.90 380.80,329.96 381.05,330.02 381.30,330.15 381.55,330.27 381.80,330.40 382.05,330.52 382.30,330.65 382.55,330.77 382.80,330.90 383.05,331.04 383.30,331.23 383.55,331.41 383.80,331.60 384.05,331.79 384.30,331.98 384.55,332.16 384.80,332.35 385.05,332.55 385.30,332.78 385.55,333.02 385.80,333.26 386.05,333.49 386.30,333.73 386.55,333.96 386.80,334.20 386.80,334.20" fill="#8989fb" stroke="none"/>
<polygon points="386.80,334.20 386.80,334.20 387.05,334.78 387.30,335.37 387.55,335.95 387.80,336.53 388.05,337.10 388.30,337.60 388.55,338.10 388.80,338.60 389.05,339.10 389.30,339.60 389.55,340.04 389.80,340.25 390.05,340.47 390.30,340.68 390.55,340.89 390.80,341.10 391.05,340.66 391.30,340.23 391.55,339.79 391.80,339.35 392.05,338.90 392.30,338.40 392.55,337.90 392.80,337.40 393.05,336.90 393.30,336.40 393.55,335.87 393.80,335.23 394.05,334.59 394.20,334.20 394.20,334.20" fill="#8989fb" stroke="none"/>
<polygon points="394.20,334.20 394.20,334.20 394.45,331.83 394.70,330.40 394.95,330.40 395.20,330.40 395.45,330.40 395.70,330.40 395.95,330.40 396.20,330.40 396.45,330.40 396.70,330.40 396.95,330.40 397.20,330.40 397.45,330.40 397.70,330.40 397.95,330.40 398.20,330.40 398.45,330.40 398.70,330.40 398.95,330.40 399.20,330.40 399.45,330.40 399.70,329.00 399.95,329.00 400.20,329.00 400.45,329.00 400.60,325.30 400.60,334.20" fill="#8989fb" stroke="none"/>
<polygon points="400.60,334.20 400.60,325.30 400.85,325.30 401.10,325.30 401.35,325.30 401.60,325.30 401.70,325.30 401.70,334.20" fill="#2a2a78" stroke="none"/>
<polygon points="401.70,334.20 401.70,325.30 401.95,329.00 402.20,329.00 402.45,329.00 402.70,329.00 402.95,329.00 403.20,329.00 403.45,329.00 403.60,325.50 403.60,334.20" fill="#8989fb" stroke="none"/>
<polygon points="403.60,334.20 403.60,325.50 403.85,322.00 404.10,322.00 404.35,322.00 404.60,322.00 404.85,322.00 405.10,322.00 405.35,322.00 405.60,322.00 405.85,322.00 406.10,322.00 406.35,322.00 406.60,322.00 406.60,334.20" fill="#000" stroke="none"/>
<line x1="241.9" y1="334.2" x2="406.6" y2="334.2" stroke="#222" stroke-width="0.7"/>
<line x1="241.9" y1="283.0" x2="241.9" y2="368.8" stroke="#111" stroke-width="1.0"/>
<text x="238.30" y="285.10" font-size="4.3" text-anchor="end" font-weight="bold" font-family="'Liberation Sans', Arial, sans-serif" fill="#000" stroke="#000" stroke-width="0.05" >0.3</text>
<line x1="240.4" y1="283.2" x2="241.9" y2="283.2" stroke="#333" stroke-width="0.5"/>
<text x="238.30" y="302.20" font-size="4.3" text-anchor="end" font-weight="bold" font-family="'Liberation Sans', Arial, sans-serif" fill="#000" stroke="#000" stroke-width="0.05" >0.2</text>
<line x1="240.4" y1="300.3" x2="241.9" y2="300.3" stroke="#333" stroke-width="0.5"/>
<text x="238.30" y="319.20" font-size="4.3" text-anchor="end" font-weight="bold" font-family="'Liberation Sans', Arial, sans-serif" fill="#000" stroke="#000" stroke-width="0.05" >0.1</text>
<line x1="240.4" y1="317.3" x2="241.9" y2="317.3" stroke="#333" stroke-width="0.5"/>
<text x="238.30" y="336.10" font-size="4.3" text-anchor="end" font-weight="bold" font-family="'Liberation Sans', Arial, sans-serif" fill="#000" stroke="#000" stroke-width="0.05" >0</text>
<line x1="240.4" y1="334.2" x2="241.9" y2="334.2" stroke="#333" stroke-width="0.5"/>
<text x="238.30" y="353.10" font-size="4.3" text-anchor="end" font-weight="bold" font-family="'Liberation Sans', Arial, sans-serif" fill="#000" stroke="#000" stroke-width="0.05" >-0.1</text>
<line x1="240.4" y1="351.2" x2="241.9" y2="351.2" stroke="#333" stroke-width="0.5"/>
<text x="238.30" y="370.00" font-size="4.3" text-anchor="end" font-weight="bold" font-family="'Liberation Sans', Arial, sans-serif" fill="#000" stroke="#000" stroke-width="0.05" >-0.2</text>
<line x1="240.4" y1="368.1" x2="241.9" y2="368.1" stroke="#333" stroke-width="0.5"/>
<line x1="241.0" y1="287.48" x2="241.9" y2="287.48" stroke="#555" stroke-width="0.4"/>
<line x1="241.0" y1="291.75" x2="241.9" y2="291.75" stroke="#555" stroke-width="0.4"/>
<line x1="241.0" y1="296.02" x2="241.9" y2="296.02" stroke="#555" stroke-width="0.4"/>
<line x1="241.0" y1="304.55" x2="241.9" y2="304.55" stroke="#555" stroke-width="0.4"/>
<line x1="241.0" y1="308.80" x2="241.9" y2="308.80" stroke="#555" stroke-width="0.4"/>
<line x1="241.0" y1="313.05" x2="241.9" y2="313.05" stroke="#555" stroke-width="0.4"/>
<line x1="241.0" y1="321.52" x2="241.9" y2="321.52" stroke="#555" stroke-width="0.4"/>
<line x1="241.0" y1="325.75" x2="241.9" y2="325.75" stroke="#555" stroke-width="0.4"/>
<line x1="241.0" y1="329.98" x2="241.9" y2="329.98" stroke="#555" stroke-width="0.4"/>
<line x1="241.0" y1="338.45" x2="241.9" y2="338.45" stroke="#555" stroke-width="0.4"/>
<line x1="241.0" y1="342.70" x2="241.9" y2="342.70" stroke="#555" stroke-width="0.4"/>
<line x1="241.0" y1="346.95" x2="241.9" y2="346.95" stroke="#555" stroke-width="0.4"/>
<line x1="241.0" y1="355.43" x2="241.9" y2="355.43" stroke="#555" stroke-width="0.4"/>
<line x1="241.0" y1="359.65" x2="241.9" y2="359.65" stroke="#555" stroke-width="0.4"/>
<line x1="241.0" y1="363.88" x2="241.9" y2="363.88" stroke="#555" stroke-width="0.4"/>
<line x1="241.4" y1="368.8" x2="406.6" y2="368.8" stroke="#000" stroke-width="1.4"/>
<text x="243.40" y="375.40" font-size="4.6" text-anchor="middle" font-weight="bold" font-family="'Liberation Sans', Arial, sans-serif" fill="#000" stroke="#000" stroke-width="0.03" >1000</text>
<text x="263.10" y="375.40" font-size="4.6" text-anchor="middle" font-weight="bold" font-family="'Liberation Sans', Arial, sans-serif" fill="#000" stroke="#000" stroke-width="0.03" >1102</text>
<text x="284.40" y="375.40" font-size="4.6" text-anchor="middle" font-weight="bold" font-family="'Liberation Sans', Arial, sans-serif" fill="#000" stroke="#000" stroke-width="0.03" >1206</text>
<text x="304.70" y="375.40" font-size="4.6" text-anchor="middle" font-weight="bold" font-family="'Liberation Sans', Arial, sans-serif" fill="#000" stroke="#000" stroke-width="0.03" >1310</text>
<text x="327.00" y="375.40" font-size="4.6" text-anchor="middle" font-weight="bold" font-family="'Liberation Sans', Arial, sans-serif" fill="#000" stroke="#000" stroke-width="0.03" >1415</text>
<text x="349.90" y="375.40" font-size="4.6" text-anchor="middle" font-weight="bold" font-family="'Liberation Sans', Arial, sans-serif" fill="#000" stroke="#000" stroke-width="0.03" >1519</text>
<text x="373.20" y="375.40" font-size="4.6" text-anchor="middle" font-weight="bold" font-family="'Liberation Sans', Arial, sans-serif" fill="#000" stroke="#000" stroke-width="0.03" >1623</text>
<text x="394.00" y="375.40" font-size="4.6" text-anchor="middle" font-weight="bold" font-family="'Liberation Sans', Arial, sans-serif" fill="#000" stroke="#000" stroke-width="0.03" >1727</text>
<text x="319.65" y="384.05" font-size="4.1" text-anchor="middle" font-weight="bold" font-family="'Liberation Sans', Arial, sans-serif" fill="#000" stroke="#000" stroke-width="0.05" textLength="72.30000000000001" lengthAdjust="spacingAndGlyphs" >X-Variables (DFD, Factor = 5, 80:1.31131)</text>
<text x="0.00" y="0.00" font-size="3.9" text-anchor="middle" font-weight="bold" font-family="'Liberation Sans', Arial, sans-serif" fill="#000" stroke="#000" stroke-width="0.15" textLength="47.7" lengthAdjust="spacingAndGlyphs" transform="translate(225.6,322.2) rotate(-90)">Regression Coefficients (B)</text>
<text x="315.70" y="404.10" font-size="11.5" text-anchor="middle" font-weight="normal" font-family="'Liberation Serif', 'Times New Roman', serif" fill="#000" >(f)</text>
<polygon points="241.40,478.90 241.40,420.40 241.65,421.43 241.90,422.46 242.15,423.49 242.40,424.53 242.65,425.56 242.90,426.59 243.15,427.80 243.40,429.13 243.65,430.45 243.90,431.78 244.15,433.11 244.40,434.44 244.65,435.71 244.90,436.79 245.15,437.86 245.40,438.93 245.65,440.00 245.90,441.07 246.15,442.34 246.40,443.74 246.65,445.14 246.90,446.54 247.15,447.84 247.40,449.06 247.65,450.29 247.90,451.51 248.15,452.60 248.40,453.60 248.65,454.60 248.80,455.20 248.80,478.90" fill="#000" stroke="none"/>
<polygon points="248.80,478.90 248.80,455.20 249.05,456.62 249.30,458.03 249.55,459.45 249.80,460.87 250.05,462.27 250.30,463.60 250.55,464.93 250.80,466.27 251.05,467.60 251.30,468.93 251.55,470.34 251.80,472.05 252.05,473.77 252.30,475.48 252.55,477.19 252.80,478.90 252.80,478.90" fill="#8989fb" stroke="none"/>
<polygon points="252.80,478.90 252.80,478.90 253.05,479.11 253.30,479.33 253.55,479.68 253.80,480.60 254.05,481.52 254.30,482.43 254.55,483.35 254.80,484.27 255.05,485.20 255.30,486.20 255.55,487.20 255.80,488.20 256.05,489.20 256.30,490.20 256.55,491.17 256.80,492.00 257.05,492.83 257.30,493.67 257.55,494.50 257.80,495.33 258.05,496.12 258.30,496.75 258.55,497.38 258.80,498.00 259.00,498.50 259.00,478.90" fill="#8989fb" stroke="none"/>
<polygon points="259.00,478.90 259.00,498.50 259.25,498.75 259.50,499.00 259.75,499.25 260.00,499.50 260.25,499.75 260.50,500.00 260.75,499.88 261.00,499.75 261.25,499.62 261.50,499.50 261.75,499.40 261.80,499.38 261.80,478.90" fill="#000" stroke="none"/>
<polygon points="261.80,478.90 261.80,499.38 262.05,499.29 262.30,499.24 262.55,499.19 262.80,499.14 263.05,499.09 263.30,499.04 263.55,498.90 263.80,498.40 264.05,497.90 264.30,497.40 264.55,496.90 264.80,496.40 265.05,495.80 265.30,494.80 265.55,493.80 265.80,492.80 266.05,491.80 266.30,490.80 266.55,489.70 266.80,488.20 267.05,486.70 267.30,485.20 267.55,483.64 267.80,481.81 268.05,479.99 268.20,478.90 268.20,478.90" fill="#8989fb" stroke="none"/>
<polygon points="268.20,478.90 268.20,478.90 268.45,477.37 268.70,475.84 268.95,474.31 269.20,472.40 269.45,470.40 269.70,468.40 269.95,466.40 270.20,464.40 270.45,462.40 270.70,461.08 270.95,459.92 271.20,458.77 271.45,457.62 271.70,456.46 271.95,456.25 272.20,456.67 272.45,457.08 272.70,457.50 272.95,457.92 273.20,458.70 273.45,459.57 273.70,460.45 273.95,461.32 274.20,462.20 274.45,463.07 274.70,463.95 274.95,464.82 275.20,465.60 275.45,466.35 275.70,467.10 275.95,467.85 276.20,468.60 276.45,469.35 276.70,470.10 276.95,470.85 277.20,471.67 277.45,472.50 277.70,473.33 277.95,474.17 278.20,475.00 278.45,475.83 278.70,476.53 278.95,477.19 279.20,477.85 279.45,478.50 279.60,478.90 279.60,478.90" fill="#8989fb" stroke="none"/>
<polygon points="279.60,478.90 279.60,478.90 279.85,479.63 280.10,480.36 280.35,481.10 280.60,481.83 280.85,482.56 281.10,483.30 281.35,484.05 281.60,484.80 281.85,485.55 282.10,486.30 282.35,487.05 282.60,487.80 282.85,488.55 283.10,489.20 283.35,489.72 283.60,490.23 283.85,490.74 284.10,491.25 284.35,491.76 284.60,492.27 284.85,492.78 285.10,493.30 285.35,493.42 285.60,493.28 285.85,493.15 286.10,493.02 286.35,492.88 286.60,492.73 286.85,492.55 287.10,492.36 287.35,492.18 287.60,492.00 287.85,491.82 288.10,491.64 288.35,491.45 288.60,491.27 288.85,491.25 289.10,491.34 289.35,491.43 289.60,491.51 289.85,491.60 290.10,491.69 290.35,491.77 290.60,491.86 290.85,491.95 291.10,491.98 291.35,491.91 291.60,491.85 291.85,491.79 292.10,491.73 292.35,491.66 292.60,491.60 292.85,491.54 293.10,491.48 293.35,491.41 293.60,491.35 293.85,491.29 294.10,491.23 294.35,491.16 294.60,491.10 294.85,491.04 295.10,491.01 295.35,491.02 295.60,491.04 295.85,491.06 296.10,491.07 296.35,491.09 296.60,491.11 296.85,491.12 297.10,491.14 297.35,491.16 297.60,491.17 297.85,491.19 298.10,491.18 298.35,491.12 298.60,491.06 298.85,491.00 299.10,490.94 299.35,490.88 299.60,490.83 299.85,490.77 300.10,490.71 300.35,490.65 300.60,490.59 300.85,490.53 301.10,490.48 301.35,490.44 301.60,490.40 301.85,490.36 302.10,490.32 302.35,490.27 302.60,490.23 302.85,490.19 303.10,490.15 303.35,490.11 303.60,490.07 303.85,490.02 304.10,489.97 304.35,489.88 304.60,489.80 304.85,489.72 305.10,489.63 305.35,489.55 305.60,489.47 305.85,489.38 306.10,489.30 306.35,489.22 306.60,489.13 306.85,489.05 307.10,488.97 307.35,488.88 307.60,488.80 307.85,488.72 308.10,488.63 308.35,488.55 308.60,488.47 308.85,488.38 309.10,488.30 309.35,488.22 309.60,488.13 309.85,488.05 310.10,487.96 310.35,487.86 310.60,487.76 310.85,487.66 311.10,487.56 311.35,487.46 311.60,487.36 311.85,487.26 312.10,487.16 312.35,487.06 312.60,486.94 312.85,486.81 313.10,486.67 313.35,486.53 313.60,486.39 313.85,486.26 314.10,486.12 314.35,485.98 314.60,485.84 314.85,485.70 315.10,485.57 315.35,485.43 315.60,485.27 315.85,485.10 316.10,484.93 316.35,484.77 316.60,484.60 316.85,484.43 317.10,484.27 317.35,484.10 317.60,483.85 317.85,483.47 318.10,483.10 318.35,482.72 318.60,482.35 318.85,481.97 319.10,481.35 319.35,480.67 319.60,479.99 319.85,479.31 320.00,478.90 320.00,478.90" fill="#8989fb" stroke="none"/>
<polygon points="320.00,478.90 320.00,478.90 320.25,478.17 320.50,477.45 320.75,476.73 321.00,476.00 321.25,474.57 321.50,473.14 321.75,471.71 322.00,470.29 322.25,468.86 322.40,468.00 322.40,478.90" fill="#8989fb" stroke="none"/>
<polygon points="322.40,478.90 322.40,468.00 322.65,464.67 322.90,461.33 323.15,459.17 323.40,457.79 323.65,456.41 323.90,455.02 324.15,453.64 324.40,452.26 324.65,450.88 324.90,449.98 325.15,449.20 325.40,448.42 325.65,447.64 325.90,446.87 326.15,446.09 326.40,445.31 326.65,444.67 326.90,444.13 327.15,443.59 327.40,443.04 327.65,442.50 327.90,441.95 328.15,441.41 328.40,441.03 328.65,440.69 328.90,440.35 329.15,440.01 329.40,439.67 329.65,439.33 329.90,438.99 330.15,438.65 330.40,438.31 330.65,437.98 330.90,437.64 331.15,437.39 331.40,437.20 331.65,437.01 331.90,436.83 332.15,436.64 332.40,436.45 332.65,436.26 332.90,436.08 333.15,435.96 333.40,435.90 333.65,435.85 333.90,435.79 334.15,435.73 334.40,435.67 334.65,435.61 334.90,435.55 335.15,435.52 335.40,435.61 335.65,435.70 335.90,435.79 336.15,435.89 336.40,435.98 336.65,436.07 336.90,436.16 337.15,436.30 337.40,436.48 337.65,436.65 337.90,436.83 338.15,437.00 338.40,437.17 338.65,437.35 338.90,437.52 339.15,437.70 339.40,437.91 339.65,438.18 339.90,438.45 340.15,438.73 340.40,439.00 340.65,439.27 340.90,439.55 341.15,439.82 341.40,440.09 341.65,440.40 341.90,440.74 342.15,441.08 342.40,441.42 342.65,441.76 342.90,442.10 343.15,442.44 343.40,442.78 343.65,443.12 343.90,443.46 344.15,443.85 344.40,444.27 344.65,444.70 344.90,445.12 345.15,445.54 345.40,445.96 345.65,446.38 345.90,446.80 346.15,447.22 346.40,447.65 346.65,448.07 346.90,448.49 347.15,448.91 347.40,449.33 347.65,449.80 347.90,450.31 348.15,450.82 348.40,451.33 348.65,451.83 348.90,452.34 349.15,452.85 349.40,453.36 349.65,453.86 349.90,454.37 350.15,454.88 350.40,455.39 350.65,455.89 350.90,456.40 351.15,456.92 351.40,457.44 351.65,457.96 351.90,458.48 352.15,459.00 352.40,459.52 352.65,460.03 352.90,460.55 353.15,461.07 353.40,461.59 353.65,462.17 353.90,462.80 354.15,463.42 354.40,464.05 354.65,464.67 354.90,465.30 355.15,465.92 355.40,466.55 355.65,467.30 355.90,468.14 356.15,468.98 356.40,469.81 356.65,470.65 356.90,471.49 357.15,472.32 357.40,473.16 357.65,474.00 357.90,475.60 358.00,476.70 358.00,478.90" fill="#000" stroke="none"/>
<polygon points="358.00,478.90 358.00,476.70 358.25,478.94 358.50,479.12 358.75,479.31 359.00,479.50 359.25,479.55 359.50,479.61 359.75,479.66 360.00,479.72 360.25,479.77 360.50,479.83 360.75,479.88 361.00,479.93 361.25,479.99 361.30,480.00 361.30,478.90" fill="#8989fb" stroke="none"/>
<polygon points="361.30,478.90 361.30,480.00 361.55,479.65 361.80,479.30 362.05,479.82 362.30,480.34 362.55,480.86 362.80,481.38 363.05,481.90 363.30,482.40 363.55,482.90 363.80,483.40 364.05,483.90 364.30,484.40 364.55,484.90 364.80,485.40 365.05,485.90 365.30,486.40 365.55,486.84 365.80,487.23 366.05,487.63 366.30,488.03 366.55,488.42 366.80,488.82 367.05,489.22 367.30,489.61 367.55,490.01 367.80,490.41 368.05,490.80 368.30,491.20 368.55,491.55 368.80,491.91 369.05,492.26 369.30,492.61 369.55,492.97 369.80,493.32 370.05,493.67 370.30,494.03 370.55,494.38 370.80,494.73 371.05,495.09 371.30,495.42 371.55,495.72 371.80,496.02 372.05,496.33 372.30,496.63 372.55,496.93 372.80,497.23 373.05,497.53 373.30,497.83 373.55,498.14 373.80,498.44 374.05,498.74 374.30,499.04 374.55,499.34 374.80,499.65 375.05,499.95 375.30,500.25 375.55,500.55 375.80,500.85 376.05,501.16 376.30,501.46 376.55,501.73 376.80,501.89 377.05,502.06 377.30,502.22 377.55,502.38 377.80,502.54 378.05,502.70 378.30,502.79 378.55,502.76 378.80,502.73 379.05,502.70 379.30,502.67 379.55,502.64 379.80,502.61 380.05,502.47 380.30,502.25 380.55,502.03 380.80,501.81 381.05,501.59 381.30,501.38 381.55,501.16 381.80,500.94 382.05,500.72 382.30,500.50 382.55,500.43 382.80,500.37 383.05,500.30 383.30,500.24 383.55,500.17 383.80,500.11 384.05,500.04 384.30,499.98 384.55,499.91 384.80,499.80 385.05,499.68 385.30,499.57 385.55,499.45 385.80,499.33 386.05,499.21 386.30,499.09 386.55,498.97 386.80,498.85 387.05,498.65 387.30,498.40 387.55,498.15 387.80,497.90 388.05,497.65 388.30,497.40 388.55,497.15 388.80,496.90 389.05,496.65 389.30,496.40 389.55,496.15 389.80,495.90 390.05,495.39 390.30,494.88 390.55,494.37 390.80,493.86 391.05,493.35 391.30,492.83 391.55,492.32 391.80,491.81 392.05,491.30 392.30,490.80 392.55,490.30 392.80,489.80 393.05,489.30 393.30,488.80 393.55,488.30 393.80,487.80 394.05,487.30 394.30,486.80 394.55,486.31 394.80,485.83 395.05,485.35 395.30,484.88 395.55,484.40 395.80,483.92 396.05,483.44 396.30,482.96 396.55,482.48 396.80,482.00 397.05,481.65 397.30,481.29 397.55,480.94 397.80,480.59 398.05,480.24 398.30,479.88 398.55,479.57 398.80,479.43 399.05,479.28 399.30,479.13 399.55,478.99 399.70,478.90 399.70,478.90" fill="#8989fb" stroke="none"/>
<polygon points="399.70,478.90 399.70,478.90 399.95,478.63 400.20,478.36 400.45,478.09 400.70,477.82 400.95,477.55 401.20,477.35 401.45,477.16 401.70,476.98 401.95,476.79 402.20,476.60 402.45,476.41 402.70,476.23 402.95,476.04 403.20,475.90 403.45,475.77 403.70,475.65 403.95,475.52 404.20,475.40 404.45,475.27 404.70,475.15 404.95,475.02 405.20,474.85 405.45,474.66 405.70,474.48 405.95,474.29 406.20,474.10 406.45,473.91 406.60,473.80 406.60,478.90" fill="#8989fb" stroke="none"/>
<line x1="241.4" y1="478.9" x2="406.6" y2="478.9" stroke="#222" stroke-width="0.7"/>
<line x1="241.4" y1="420.0" x2="241.4" y2="504.5" stroke="#111" stroke-width="1.0"/>
<text x="237.80" y="422.40" font-size="4.3" text-anchor="end" font-weight="bold" font-family="'Liberation Sans', Arial, sans-serif" fill="#000" stroke="#000" stroke-width="0.05" >1.4</text>
<line x1="239.9" y1="420.5" x2="241.4" y2="420.5" stroke="#333" stroke-width="0.5"/>
<text x="237.80" y="430.60" font-size="4.3" text-anchor="end" font-weight="bold" font-family="'Liberation Sans', Arial, sans-serif" fill="#000" stroke="#000" stroke-width="0.05" >1.2</text>
<line x1="239.9" y1="428.7" x2="241.4" y2="428.7" stroke="#333" stroke-width="0.5"/>
<text x="237.80" y="438.90" font-size="4.3" text-anchor="end" font-weight="bold" font-family="'Liberation Sans', Arial, sans-serif" fill="#000" stroke="#000" stroke-width="0.05" >1</text>
<line x1="239.9" y1="437.0" x2="241.4" y2="437.0" stroke="#333" stroke-width="0.5"/>
<text x="237.80" y="447.20" font-size="4.3" text-anchor="end" font-weight="bold" font-family="'Liberation Sans', Arial, sans-serif" fill="#000" stroke="#000" stroke-width="0.05" >0.8</text>
<line x1="239.9" y1="445.3" x2="241.4" y2="445.3" stroke="#333" stroke-width="0.5"/>
<text x="237.80" y="455.50" font-size="4.3" text-anchor="end" font-weight="bold" font-family="'Liberation Sans', Arial, sans-serif" fill="#000" stroke="#000" stroke-width="0.05" >0.6</text>
<line x1="239.9" y1="453.6" x2="241.4" y2="453.6" stroke="#333" stroke-width="0.5"/>
<text x="237.80" y="463.90" font-size="4.3" text-anchor="end" font-weight="bold" font-family="'Liberation Sans', Arial, sans-serif" fill="#000" stroke="#000" stroke-width="0.05" >0.4</text>
<line x1="239.9" y1="462.0" x2="241.4" y2="462.0" stroke="#333" stroke-width="0.5"/>
<text x="237.80" y="472.20" font-size="4.3" text-anchor="end" font-weight="bold" font-family="'Liberation Sans', Arial, sans-serif" fill="#000" stroke="#000" stroke-width="0.05" >0.2</text>
<line x1="239.9" y1="470.3" x2="241.4" y2="470.3" stroke="#333" stroke-width="0.5"/>
<text x="237.80" y="480.60" font-size="4.3" text-anchor="end" font-weight="bold" font-family="'Liberation Sans', Arial, sans-serif" fill="#000" stroke="#000" stroke-width="0.05" >0</text>
<line x1="239.9" y1="478.7" x2="241.4" y2="478.7" stroke="#333" stroke-width="0.5"/>
<text x="237.80" y="488.90" font-size="4.3" text-anchor="end" font-weight="bold" font-family="'Liberation Sans', Arial, sans-serif" fill="#000" stroke="#000" stroke-width="0.05" >-0.2</text>
<line x1="239.9" y1="487.0" x2="241.4" y2="487.0" stroke="#333" stroke-width="0.5"/>
<text x="237.80" y="497.20" font-size="4.3" text-anchor="end" font-weight="bold" font-family="'Liberation Sans', Arial, sans-serif" fill="#000" stroke="#000" stroke-width="0.05" >-0.4</text>
<line x1="239.9" y1="495.3" x2="241.4" y2="495.3" stroke="#333" stroke-width="0.5"/>
<text x="237.80" y="505.50" font-size="4.3" text-anchor="end" font-weight="bold" font-family="'Liberation Sans', Arial, sans-serif" fill="#000" stroke="#000" stroke-width="0.05" >-0.6</text>
<line x1="239.9" y1="503.6" x2="241.4" y2="503.6" stroke="#333" stroke-width="0.5"/>
<line x1="240.5" y1="422.55" x2="241.4" y2="422.55" stroke="#555" stroke-width="0.4"/>
<line x1="240.5" y1="424.60" x2="241.4" y2="424.60" stroke="#555" stroke-width="0.4"/>
<line x1="240.5" y1="426.65" x2="241.4" y2="426.65" stroke="#555" stroke-width="0.4"/>
<line x1="240.5" y1="430.77" x2="241.4" y2="430.77" stroke="#555" stroke-width="0.4"/>
<line x1="240.5" y1="432.85" x2="241.4" y2="432.85" stroke="#555" stroke-width="0.4"/>
<line x1="240.5" y1="434.93" x2="241.4" y2="434.93" stroke="#555" stroke-width="0.4"/>
<line x1="240.5" y1="439.07" x2="241.4" y2="439.07" stroke="#555" stroke-width="0.4"/>
<line x1="240.5" y1="441.15" x2="241.4" y2="441.15" stroke="#555" stroke-width="0.4"/>
<line x1="240.5" y1="443.23" x2="241.4" y2="443.23" stroke="#555" stroke-width="0.4"/>
<line x1="240.5" y1="447.38" x2="241.4" y2="447.38" stroke="#555" stroke-width="0.4"/>
<line x1="240.5" y1="449.45" x2="241.4" y2="449.45" stroke="#555" stroke-width="0.4"/>
<line x1="240.5" y1="451.53" x2="241.4" y2="451.53" stroke="#555" stroke-width="0.4"/>
<line x1="240.5" y1="455.70" x2="241.4" y2="455.70" stroke="#555" stroke-width="0.4"/>
<line x1="240.5" y1="457.80" x2="241.4" y2="457.80" stroke="#555" stroke-width="0.4"/>
<line x1="240.5" y1="459.90" x2="241.4" y2="459.90" stroke="#555" stroke-width="0.4"/>
<line x1="240.5" y1="464.07" x2="241.4" y2="464.07" stroke="#555" stroke-width="0.4"/>
<line x1="240.5" y1="466.15" x2="241.4" y2="466.15" stroke="#555" stroke-width="0.4"/>
<line x1="240.5" y1="468.23" x2="241.4" y2="468.23" stroke="#555" stroke-width="0.4"/>
<line x1="240.5" y1="472.40" x2="241.4" y2="472.40" stroke="#555" stroke-width="0.4"/>
<line x1="240.5" y1="474.50" x2="241.4" y2="474.50" stroke="#555" stroke-width="0.4"/>
<line x1="240.5" y1="476.60" x2="241.4" y2="476.60" stroke="#555" stroke-width="0.4"/>
<line x1="240.5" y1="480.77" x2="241.4" y2="480.77" stroke="#555" stroke-width="0.4"/>
<line x1="240.5" y1="482.85" x2="241.4" y2="482.85" stroke="#555" stroke-width="0.4"/>
<line x1="240.5" y1="484.93" x2="241.4" y2="484.93" stroke="#555" stroke-width="0.4"/>
<line x1="240.5" y1="489.07" x2="241.4" y2="489.07" stroke="#555" stroke-width="0.4"/>
<line x1="240.5" y1="491.15" x2="241.4" y2="491.15" stroke="#555" stroke-width="0.4"/>
<line x1="240.5" y1="493.23" x2="241.4" y2="493.23" stroke="#555" stroke-width="0.4"/>
<line x1="240.5" y1="497.38" x2="241.4" y2="497.38" stroke="#555" stroke-width="0.4"/>
<line x1="240.5" y1="499.45" x2="241.4" y2="499.45" stroke="#555" stroke-width="0.4"/>
<line x1="240.5" y1="501.53" x2="241.4" y2="501.53" stroke="#555" stroke-width="0.4"/>
<line x1="240.9" y1="504.5" x2="406.6" y2="504.5" stroke="#000" stroke-width="1.4"/>
<text x="243.60" y="512.00" font-size="4.6" text-anchor="middle" font-weight="bold" font-family="'Liberation Sans', Arial, sans-serif" fill="#000" stroke="#000" stroke-width="0.03" >1000</text>
<text x="263.60" y="512.00" font-size="4.6" text-anchor="middle" font-weight="bold" font-family="'Liberation Sans', Arial, sans-serif" fill="#000" stroke="#000" stroke-width="0.03" >1100</text>
<text x="284.60" y="512.00" font-size="4.6" text-anchor="middle" font-weight="bold" font-family="'Liberation Sans', Arial, sans-serif" fill="#000" stroke="#000" stroke-width="0.03" >1202</text>
<text x="304.80" y="512.00" font-size="4.6" text-anchor="middle" font-weight="bold" font-family="'Liberation Sans', Arial, sans-serif" fill="#000" stroke="#000" stroke-width="0.03" >1304</text>
<text x="327.20" y="512.00" font-size="4.6" text-anchor="middle" font-weight="bold" font-family="'Liberation Sans', Arial, sans-serif" fill="#000" stroke="#000" stroke-width="0.03" >1406</text>
<text x="350.20" y="512.00" font-size="4.6" text-anchor="middle" font-weight="bold" font-family="'Liberation Sans', Arial, sans-serif" fill="#000" stroke="#000" stroke-width="0.03" >1508</text>
<text x="374.00" y="512.00" font-size="4.6" text-anchor="middle" font-weight="bold" font-family="'Liberation Sans', Arial, sans-serif" fill="#000" stroke="#000" stroke-width="0.03" >1610</text>
<text x="396.00" y="512.00" font-size="4.6" text-anchor="middle" font-weight="bold" font-family="'Liberation Sans', Arial, sans-serif" fill="#000" stroke="#000" stroke-width="0.03" >1711</text>
<text x="320.70" y="519.85" font-size="4.1" text-anchor="middle" font-weight="bold" font-family="'Liberation Sans', Arial, sans-serif" fill="#000" stroke="#000" stroke-width="0.05" textLength="72.60000000000002" lengthAdjust="spacingAndGlyphs" >X-Variables (DFD, Factor = 4, 80:-0.84862)</text>
<text x="0.00" y="0.00" font-size="3.9" text-anchor="middle" font-weight="bold" font-family="'Liberation Sans', Arial, sans-serif" fill="#000" stroke="#000" stroke-width="0.15" textLength="48.2" lengthAdjust="spacingAndGlyphs" transform="translate(226.6,458.6) rotate(-90)">Regression Coefficients (B)</text>
<text x="315.80" y="542.30" font-size="11.5" text-anchor="middle" font-weight="normal" font-family="'Liberation Serif', 'Times New Roman', serif" fill="#000" >(h)</text>
<text x="337.10" y="11.00" font-size="6.2" text-anchor="middle" font-weight="bold" font-family="'Liberation Sans', Arial, sans-serif" fill="#000" stroke="#000" stroke-width="0.15" textLength="58.6" lengthAdjust="spacingAndGlyphs" >Regression Coefficients</text>
</svg>
</body></html>
